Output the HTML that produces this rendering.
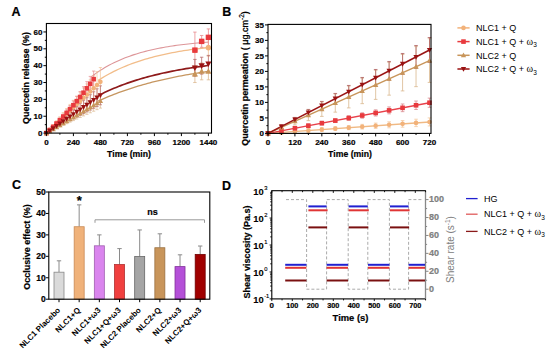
<!DOCTYPE html>
<html><head><meta charset="utf-8"><style>
html,body{margin:0;padding:0;background:#fff;width:550px;height:356px;overflow:hidden}
svg{display:block}
</style></head><body>
<svg width="550" height="356" viewBox="0 0 550 356">
<rect width="550" height="356" fill="#fff"/>
<text x="11.6" y="16.2" font-size="12.5" font-weight="bold" text-anchor="start" fill="#000" stroke="#000" stroke-width="0.2" font-family='"Liberation Sans", sans-serif' >A</text>
<text x="222.2" y="16.2" font-size="12.5" font-weight="bold" text-anchor="start" fill="#000" stroke="#000" stroke-width="0.2" font-family='"Liberation Sans", sans-serif' >B</text>
<text x="12.0" y="189.4" font-size="12.5" font-weight="bold" text-anchor="start" fill="#000" stroke="#000" stroke-width="0.2" font-family='"Liberation Sans", sans-serif' >C</text>
<text x="222.0" y="189.6" font-size="12.5" font-weight="bold" text-anchor="start" fill="#000" stroke="#000" stroke-width="0.2" font-family='"Liberation Sans", sans-serif' >D</text>
<polyline points="98.15,80.38 100.40,78.96 102.65,77.58 104.90,76.26 107.15,74.98 109.40,73.75 111.65,72.56 113.90,71.42 116.15,70.32 118.40,69.26 120.65,68.24 122.90,67.25 125.15,66.30 127.40,65.38 129.65,64.50 131.90,63.65 134.15,62.83 136.40,62.04 138.65,61.28 140.90,60.55 143.15,59.84 145.40,59.16 147.65,58.51 149.90,57.88 152.15,57.27 154.40,56.68 156.65,56.11 158.90,55.57 161.15,55.04 163.40,54.54 165.65,54.05 167.90,53.58 170.15,53.12 172.40,52.69 174.65,52.27 176.90,51.86 179.15,51.47 181.40,51.09 183.65,50.73 185.90,50.38 188.15,50.04 190.40,49.72 192.65,49.41 194.90,49.10 197.15,48.81 199.40,48.53 201.65,48.26 203.90,48.00 206.15,47.75 208.40,47.51 208.40,47.51" fill="none" stroke="#f2bd8a" stroke-width="1.3"/>
<polyline points="91.40,76.67 93.65,74.98 95.90,73.36 98.15,71.82 100.40,70.34 102.65,68.93 104.90,67.58 107.15,66.29 109.40,65.06 111.65,63.88 113.90,62.76 116.15,61.68 118.40,60.65 120.65,59.67 122.90,58.73 125.15,57.84 127.40,56.98 129.65,56.16 131.90,55.38 134.15,54.63 136.40,53.92 138.65,53.23 140.90,52.58 143.15,51.96 145.40,51.36 147.65,50.79 149.90,50.25 152.15,49.73 154.40,49.23 156.65,48.76 158.90,48.30 161.15,47.87 163.40,47.45 165.65,47.06 167.90,46.68 170.15,46.32 172.40,45.97 174.65,45.64 176.90,45.33 179.15,45.02 181.40,44.74 183.65,44.46 185.90,44.20 188.15,43.95 190.40,43.71 192.65,43.48 194.90,43.26 197.15,43.05 199.40,42.85 201.65,42.66 203.90,42.47 206.15,42.30 208.40,42.13 208.40,42.13" fill="none" stroke="#dd9598" stroke-width="1.1"/>
<polyline points="98.15,101.08 100.40,100.06 102.65,99.06 104.90,98.08 107.15,97.13 109.40,96.20 111.65,95.29 113.90,94.41 116.15,93.54 118.40,92.70 120.65,91.87 122.90,91.07 125.15,90.29 127.40,89.52 129.65,88.78 131.90,88.05 134.15,87.34 136.40,86.64 138.65,85.97 140.90,85.31 143.15,84.66 145.40,84.03 147.65,83.42 149.90,82.82 152.15,82.23 154.40,81.66 156.65,81.10 158.90,80.56 161.15,80.03 163.40,79.51 165.65,79.01 167.90,78.51 170.15,78.03 172.40,77.56 174.65,77.11 176.90,76.66 179.15,76.22 181.40,75.80 183.65,75.38 185.90,74.97 188.15,74.58 190.40,74.19 192.65,73.82 194.90,73.45 197.15,73.09 199.40,72.74 201.65,72.40 203.90,72.06 206.15,71.74 208.40,71.42 208.40,71.42" fill="none" stroke="#c69660" stroke-width="1.3"/>
<polyline points="98.15,95.62 100.40,94.49 102.65,93.39 104.90,92.32 107.15,91.28 109.40,90.27 111.65,89.29 113.90,88.34 116.15,87.42 118.40,86.52 120.65,85.64 122.90,84.79 125.15,83.97 127.40,83.17 129.65,82.39 131.90,81.63 134.15,80.90 136.40,80.18 138.65,79.49 140.90,78.81 143.15,78.16 145.40,77.52 147.65,76.90 149.90,76.30 152.15,75.72 154.40,75.15 156.65,74.60 158.90,74.06 161.15,73.54 163.40,73.04 165.65,72.55 167.90,72.07 170.15,71.60 172.40,71.15 174.65,70.72 176.90,70.29 179.15,69.88 181.40,69.48 183.65,69.09 185.90,68.71 188.15,68.34 190.40,67.98 192.65,67.63 194.90,67.30 197.15,66.97 199.40,66.65 201.65,66.34 203.90,66.04 206.15,65.74 208.40,65.46 208.40,65.46" fill="none" stroke="#8e1a1a" stroke-width="1.7"/>
<line x1="49.77" y1="129.00" x2="49.77" y2="130.79" stroke="#f0c49a" stroke-width="0.7" />
<line x1="48.17" y1="129.00" x2="51.38" y2="129.00" stroke="#f0c49a" stroke-width="0.7" />
<line x1="48.17" y1="130.79" x2="51.38" y2="130.79" stroke="#f0c49a" stroke-width="0.7" />
<line x1="53.15" y1="124.90" x2="53.15" y2="128.49" stroke="#f0c49a" stroke-width="0.7" />
<line x1="51.55" y1="124.90" x2="54.75" y2="124.90" stroke="#f0c49a" stroke-width="0.7" />
<line x1="51.55" y1="128.49" x2="54.75" y2="128.49" stroke="#f0c49a" stroke-width="0.7" />
<line x1="56.52" y1="120.81" x2="56.52" y2="126.18" stroke="#f0c49a" stroke-width="0.7" />
<line x1="54.92" y1="120.81" x2="58.12" y2="120.81" stroke="#f0c49a" stroke-width="0.7" />
<line x1="54.92" y1="126.18" x2="58.12" y2="126.18" stroke="#f0c49a" stroke-width="0.7" />
<line x1="59.90" y1="116.71" x2="59.90" y2="123.88" stroke="#f0c49a" stroke-width="0.7" />
<line x1="58.30" y1="116.71" x2="61.50" y2="116.71" stroke="#f0c49a" stroke-width="0.7" />
<line x1="58.30" y1="123.88" x2="61.50" y2="123.88" stroke="#f0c49a" stroke-width="0.7" />
<line x1="63.27" y1="112.61" x2="63.27" y2="121.57" stroke="#f0c49a" stroke-width="0.7" />
<line x1="61.67" y1="112.61" x2="64.88" y2="112.61" stroke="#f0c49a" stroke-width="0.7" />
<line x1="61.67" y1="121.57" x2="64.88" y2="121.57" stroke="#f0c49a" stroke-width="0.7" />
<line x1="66.65" y1="108.51" x2="66.65" y2="119.27" stroke="#f0c49a" stroke-width="0.7" />
<line x1="65.05" y1="108.51" x2="68.25" y2="108.51" stroke="#f0c49a" stroke-width="0.7" />
<line x1="65.05" y1="119.27" x2="68.25" y2="119.27" stroke="#f0c49a" stroke-width="0.7" />
<line x1="70.03" y1="104.41" x2="70.03" y2="116.96" stroke="#f0c49a" stroke-width="0.7" />
<line x1="68.43" y1="104.41" x2="71.62" y2="104.41" stroke="#f0c49a" stroke-width="0.7" />
<line x1="68.43" y1="116.96" x2="71.62" y2="116.96" stroke="#f0c49a" stroke-width="0.7" />
<line x1="73.40" y1="100.31" x2="73.40" y2="114.66" stroke="#f0c49a" stroke-width="0.7" />
<line x1="71.80" y1="100.31" x2="75.00" y2="100.31" stroke="#f0c49a" stroke-width="0.7" />
<line x1="71.80" y1="114.66" x2="75.00" y2="114.66" stroke="#f0c49a" stroke-width="0.7" />
<line x1="76.78" y1="96.22" x2="76.78" y2="112.35" stroke="#f0c49a" stroke-width="0.7" />
<line x1="75.18" y1="96.22" x2="78.38" y2="96.22" stroke="#f0c49a" stroke-width="0.7" />
<line x1="75.18" y1="112.35" x2="78.38" y2="112.35" stroke="#f0c49a" stroke-width="0.7" />
<line x1="80.15" y1="92.12" x2="80.15" y2="110.05" stroke="#f0c49a" stroke-width="0.7" />
<line x1="78.55" y1="92.12" x2="81.75" y2="92.12" stroke="#f0c49a" stroke-width="0.7" />
<line x1="78.55" y1="110.05" x2="81.75" y2="110.05" stroke="#f0c49a" stroke-width="0.7" />
<line x1="83.53" y1="88.02" x2="83.53" y2="107.74" stroke="#f0c49a" stroke-width="0.7" />
<line x1="81.93" y1="88.02" x2="85.12" y2="88.02" stroke="#f0c49a" stroke-width="0.7" />
<line x1="81.93" y1="107.74" x2="85.12" y2="107.74" stroke="#f0c49a" stroke-width="0.7" />
<line x1="86.90" y1="83.92" x2="86.90" y2="105.44" stroke="#f0c49a" stroke-width="0.7" />
<line x1="85.30" y1="83.92" x2="88.50" y2="83.92" stroke="#f0c49a" stroke-width="0.7" />
<line x1="85.30" y1="105.44" x2="88.50" y2="105.44" stroke="#f0c49a" stroke-width="0.7" />
<line x1="90.28" y1="79.82" x2="90.28" y2="103.13" stroke="#f0c49a" stroke-width="0.7" />
<line x1="88.68" y1="79.82" x2="91.88" y2="79.82" stroke="#f0c49a" stroke-width="0.7" />
<line x1="88.68" y1="103.13" x2="91.88" y2="103.13" stroke="#f0c49a" stroke-width="0.7" />
<line x1="93.65" y1="75.73" x2="93.65" y2="100.83" stroke="#f0c49a" stroke-width="0.7" />
<line x1="92.05" y1="75.73" x2="95.25" y2="75.73" stroke="#f0c49a" stroke-width="0.7" />
<line x1="92.05" y1="100.83" x2="95.25" y2="100.83" stroke="#f0c49a" stroke-width="0.7" />
<line x1="97.03" y1="71.63" x2="97.03" y2="98.52" stroke="#f0c49a" stroke-width="0.7" />
<line x1="95.43" y1="71.63" x2="98.62" y2="71.63" stroke="#f0c49a" stroke-width="0.7" />
<line x1="95.43" y1="98.52" x2="98.62" y2="98.52" stroke="#f0c49a" stroke-width="0.7" />
<line x1="100.40" y1="67.53" x2="100.40" y2="96.22" stroke="#f0c49a" stroke-width="0.7" />
<line x1="98.80" y1="67.53" x2="102.00" y2="67.53" stroke="#f0c49a" stroke-width="0.7" />
<line x1="98.80" y1="96.22" x2="102.00" y2="96.22" stroke="#f0c49a" stroke-width="0.7" />
<line x1="194.90" y1="50.15" x2="194.90" y2="50.15" stroke="#f0c49a" stroke-width="0.8" />
<line x1="193.20" y1="50.15" x2="196.60" y2="50.15" stroke="#f0c49a" stroke-width="0.8" />
<line x1="193.20" y1="50.15" x2="196.60" y2="50.15" stroke="#f0c49a" stroke-width="0.8" />
<line x1="201.65" y1="41.38" x2="201.65" y2="41.38" stroke="#f0c49a" stroke-width="0.8" />
<line x1="199.95" y1="41.38" x2="203.35" y2="41.38" stroke="#f0c49a" stroke-width="0.8" />
<line x1="199.95" y1="41.38" x2="203.35" y2="41.38" stroke="#f0c49a" stroke-width="0.8" />
<line x1="208.40" y1="39.36" x2="208.40" y2="56.22" stroke="#f0c49a" stroke-width="0.8" />
<line x1="206.70" y1="39.36" x2="210.10" y2="39.36" stroke="#f0c49a" stroke-width="0.8" />
<line x1="206.70" y1="56.22" x2="210.10" y2="56.22" stroke="#f0c49a" stroke-width="0.8" />
<line x1="49.77" y1="129.58" x2="49.77" y2="130.50" stroke="#e88a8e" stroke-width="0.7" />
<line x1="48.17" y1="129.58" x2="51.38" y2="129.58" stroke="#e88a8e" stroke-width="0.7" />
<line x1="48.17" y1="130.50" x2="51.38" y2="130.50" stroke="#e88a8e" stroke-width="0.7" />
<line x1="53.15" y1="125.92" x2="53.15" y2="127.79" stroke="#e88a8e" stroke-width="0.7" />
<line x1="51.55" y1="125.92" x2="54.75" y2="125.92" stroke="#e88a8e" stroke-width="0.7" />
<line x1="51.55" y1="127.79" x2="54.75" y2="127.79" stroke="#e88a8e" stroke-width="0.7" />
<line x1="56.52" y1="122.12" x2="56.52" y2="124.98" stroke="#e88a8e" stroke-width="0.7" />
<line x1="54.92" y1="122.12" x2="58.12" y2="122.12" stroke="#e88a8e" stroke-width="0.7" />
<line x1="54.92" y1="124.98" x2="58.12" y2="124.98" stroke="#e88a8e" stroke-width="0.7" />
<line x1="59.90" y1="118.18" x2="59.90" y2="122.07" stroke="#e88a8e" stroke-width="0.7" />
<line x1="58.30" y1="118.18" x2="61.50" y2="118.18" stroke="#e88a8e" stroke-width="0.7" />
<line x1="58.30" y1="122.07" x2="61.50" y2="122.07" stroke="#e88a8e" stroke-width="0.7" />
<line x1="63.27" y1="114.10" x2="63.27" y2="119.05" stroke="#e88a8e" stroke-width="0.7" />
<line x1="61.67" y1="114.10" x2="64.88" y2="114.10" stroke="#e88a8e" stroke-width="0.7" />
<line x1="61.67" y1="119.05" x2="64.88" y2="119.05" stroke="#e88a8e" stroke-width="0.7" />
<line x1="66.65" y1="109.87" x2="66.65" y2="115.93" stroke="#e88a8e" stroke-width="0.7" />
<line x1="65.05" y1="109.87" x2="68.25" y2="109.87" stroke="#e88a8e" stroke-width="0.7" />
<line x1="65.05" y1="115.93" x2="68.25" y2="115.93" stroke="#e88a8e" stroke-width="0.7" />
<line x1="70.03" y1="105.51" x2="70.03" y2="112.71" stroke="#e88a8e" stroke-width="0.7" />
<line x1="68.43" y1="105.51" x2="71.62" y2="105.51" stroke="#e88a8e" stroke-width="0.7" />
<line x1="68.43" y1="112.71" x2="71.62" y2="112.71" stroke="#e88a8e" stroke-width="0.7" />
<line x1="73.40" y1="101.01" x2="73.40" y2="109.38" stroke="#e88a8e" stroke-width="0.7" />
<line x1="71.80" y1="101.01" x2="75.00" y2="101.01" stroke="#e88a8e" stroke-width="0.7" />
<line x1="71.80" y1="109.38" x2="75.00" y2="109.38" stroke="#e88a8e" stroke-width="0.7" />
<line x1="76.78" y1="96.37" x2="76.78" y2="105.95" stroke="#e88a8e" stroke-width="0.7" />
<line x1="75.18" y1="96.37" x2="78.38" y2="96.37" stroke="#e88a8e" stroke-width="0.7" />
<line x1="75.18" y1="105.95" x2="78.38" y2="105.95" stroke="#e88a8e" stroke-width="0.7" />
<line x1="80.15" y1="91.59" x2="80.15" y2="102.42" stroke="#e88a8e" stroke-width="0.7" />
<line x1="78.55" y1="91.59" x2="81.75" y2="91.59" stroke="#e88a8e" stroke-width="0.7" />
<line x1="78.55" y1="102.42" x2="81.75" y2="102.42" stroke="#e88a8e" stroke-width="0.7" />
<line x1="83.53" y1="86.67" x2="83.53" y2="98.78" stroke="#e88a8e" stroke-width="0.7" />
<line x1="81.93" y1="86.67" x2="85.12" y2="86.67" stroke="#e88a8e" stroke-width="0.7" />
<line x1="81.93" y1="98.78" x2="85.12" y2="98.78" stroke="#e88a8e" stroke-width="0.7" />
<line x1="86.90" y1="81.61" x2="86.90" y2="95.04" stroke="#e88a8e" stroke-width="0.7" />
<line x1="85.30" y1="81.61" x2="88.50" y2="81.61" stroke="#e88a8e" stroke-width="0.7" />
<line x1="85.30" y1="95.04" x2="88.50" y2="95.04" stroke="#e88a8e" stroke-width="0.7" />
<line x1="90.28" y1="76.40" x2="90.28" y2="91.19" stroke="#e88a8e" stroke-width="0.7" />
<line x1="88.68" y1="76.40" x2="91.88" y2="76.40" stroke="#e88a8e" stroke-width="0.7" />
<line x1="88.68" y1="91.19" x2="91.88" y2="91.19" stroke="#e88a8e" stroke-width="0.7" />
<line x1="93.65" y1="71.06" x2="93.65" y2="87.25" stroke="#e88a8e" stroke-width="0.7" />
<line x1="92.05" y1="71.06" x2="95.25" y2="71.06" stroke="#e88a8e" stroke-width="0.7" />
<line x1="92.05" y1="87.25" x2="95.25" y2="87.25" stroke="#e88a8e" stroke-width="0.7" />
<line x1="194.90" y1="32.11" x2="194.90" y2="68.19" stroke="#e88a8e" stroke-width="0.8" />
<line x1="193.20" y1="32.11" x2="196.60" y2="32.11" stroke="#e88a8e" stroke-width="0.8" />
<line x1="193.20" y1="68.19" x2="196.60" y2="68.19" stroke="#e88a8e" stroke-width="0.8" />
<line x1="201.65" y1="35.48" x2="201.65" y2="47.28" stroke="#e88a8e" stroke-width="0.8" />
<line x1="199.95" y1="35.48" x2="203.35" y2="35.48" stroke="#e88a8e" stroke-width="0.8" />
<line x1="199.95" y1="47.28" x2="203.35" y2="47.28" stroke="#e88a8e" stroke-width="0.8" />
<line x1="208.40" y1="28.91" x2="208.40" y2="45.77" stroke="#e88a8e" stroke-width="0.8" />
<line x1="206.70" y1="28.91" x2="210.10" y2="28.91" stroke="#e88a8e" stroke-width="0.8" />
<line x1="206.70" y1="45.77" x2="210.10" y2="45.77" stroke="#e88a8e" stroke-width="0.8" />
<line x1="49.77" y1="130.66" x2="49.77" y2="131.54" stroke="#dcb990" stroke-width="0.7" />
<line x1="48.17" y1="130.66" x2="51.38" y2="130.66" stroke="#dcb990" stroke-width="0.7" />
<line x1="48.17" y1="131.54" x2="51.38" y2="131.54" stroke="#dcb990" stroke-width="0.7" />
<line x1="53.15" y1="128.21" x2="53.15" y2="129.98" stroke="#dcb990" stroke-width="0.7" />
<line x1="51.55" y1="128.21" x2="54.75" y2="128.21" stroke="#dcb990" stroke-width="0.7" />
<line x1="51.55" y1="129.98" x2="54.75" y2="129.98" stroke="#dcb990" stroke-width="0.7" />
<line x1="56.52" y1="125.77" x2="56.52" y2="128.41" stroke="#dcb990" stroke-width="0.7" />
<line x1="54.92" y1="125.77" x2="58.12" y2="125.77" stroke="#dcb990" stroke-width="0.7" />
<line x1="54.92" y1="128.41" x2="58.12" y2="128.41" stroke="#dcb990" stroke-width="0.7" />
<line x1="59.90" y1="123.33" x2="59.90" y2="126.85" stroke="#dcb990" stroke-width="0.7" />
<line x1="58.30" y1="123.33" x2="61.50" y2="123.33" stroke="#dcb990" stroke-width="0.7" />
<line x1="58.30" y1="126.85" x2="61.50" y2="126.85" stroke="#dcb990" stroke-width="0.7" />
<line x1="63.27" y1="120.88" x2="63.27" y2="125.29" stroke="#dcb990" stroke-width="0.7" />
<line x1="61.67" y1="120.88" x2="64.88" y2="120.88" stroke="#dcb990" stroke-width="0.7" />
<line x1="61.67" y1="125.29" x2="64.88" y2="125.29" stroke="#dcb990" stroke-width="0.7" />
<line x1="66.65" y1="118.44" x2="66.65" y2="123.73" stroke="#dcb990" stroke-width="0.7" />
<line x1="65.05" y1="118.44" x2="68.25" y2="118.44" stroke="#dcb990" stroke-width="0.7" />
<line x1="65.05" y1="123.73" x2="68.25" y2="123.73" stroke="#dcb990" stroke-width="0.7" />
<line x1="70.03" y1="115.99" x2="70.03" y2="122.16" stroke="#dcb990" stroke-width="0.7" />
<line x1="68.43" y1="115.99" x2="71.62" y2="115.99" stroke="#dcb990" stroke-width="0.7" />
<line x1="68.43" y1="122.16" x2="71.62" y2="122.16" stroke="#dcb990" stroke-width="0.7" />
<line x1="73.40" y1="113.55" x2="73.40" y2="120.60" stroke="#dcb990" stroke-width="0.7" />
<line x1="71.80" y1="113.55" x2="75.00" y2="113.55" stroke="#dcb990" stroke-width="0.7" />
<line x1="71.80" y1="120.60" x2="75.00" y2="120.60" stroke="#dcb990" stroke-width="0.7" />
<line x1="76.78" y1="111.11" x2="76.78" y2="119.04" stroke="#dcb990" stroke-width="0.7" />
<line x1="75.18" y1="111.11" x2="78.38" y2="111.11" stroke="#dcb990" stroke-width="0.7" />
<line x1="75.18" y1="119.04" x2="78.38" y2="119.04" stroke="#dcb990" stroke-width="0.7" />
<line x1="80.15" y1="108.66" x2="80.15" y2="117.48" stroke="#dcb990" stroke-width="0.7" />
<line x1="78.55" y1="108.66" x2="81.75" y2="108.66" stroke="#dcb990" stroke-width="0.7" />
<line x1="78.55" y1="117.48" x2="81.75" y2="117.48" stroke="#dcb990" stroke-width="0.7" />
<line x1="83.53" y1="106.22" x2="83.53" y2="115.91" stroke="#dcb990" stroke-width="0.7" />
<line x1="81.93" y1="106.22" x2="85.12" y2="106.22" stroke="#dcb990" stroke-width="0.7" />
<line x1="81.93" y1="115.91" x2="85.12" y2="115.91" stroke="#dcb990" stroke-width="0.7" />
<line x1="86.90" y1="103.78" x2="86.90" y2="114.35" stroke="#dcb990" stroke-width="0.7" />
<line x1="85.30" y1="103.78" x2="88.50" y2="103.78" stroke="#dcb990" stroke-width="0.7" />
<line x1="85.30" y1="114.35" x2="88.50" y2="114.35" stroke="#dcb990" stroke-width="0.7" />
<line x1="90.28" y1="101.33" x2="90.28" y2="112.79" stroke="#dcb990" stroke-width="0.7" />
<line x1="88.68" y1="101.33" x2="91.88" y2="101.33" stroke="#dcb990" stroke-width="0.7" />
<line x1="88.68" y1="112.79" x2="91.88" y2="112.79" stroke="#dcb990" stroke-width="0.7" />
<line x1="93.65" y1="98.89" x2="93.65" y2="111.23" stroke="#dcb990" stroke-width="0.7" />
<line x1="92.05" y1="98.89" x2="95.25" y2="98.89" stroke="#dcb990" stroke-width="0.7" />
<line x1="92.05" y1="111.23" x2="95.25" y2="111.23" stroke="#dcb990" stroke-width="0.7" />
<line x1="97.03" y1="96.45" x2="97.03" y2="109.67" stroke="#dcb990" stroke-width="0.7" />
<line x1="95.43" y1="96.45" x2="98.62" y2="96.45" stroke="#dcb990" stroke-width="0.7" />
<line x1="95.43" y1="109.67" x2="98.62" y2="109.67" stroke="#dcb990" stroke-width="0.7" />
<line x1="100.40" y1="94.00" x2="100.40" y2="108.10" stroke="#dcb990" stroke-width="0.7" />
<line x1="98.80" y1="94.00" x2="102.00" y2="94.00" stroke="#dcb990" stroke-width="0.7" />
<line x1="98.80" y1="108.10" x2="102.00" y2="108.10" stroke="#dcb990" stroke-width="0.7" />
<line x1="194.90" y1="65.66" x2="194.90" y2="82.52" stroke="#dcb990" stroke-width="0.8" />
<line x1="193.20" y1="65.66" x2="196.60" y2="65.66" stroke="#dcb990" stroke-width="0.8" />
<line x1="193.20" y1="82.52" x2="196.60" y2="82.52" stroke="#dcb990" stroke-width="0.8" />
<line x1="201.65" y1="62.96" x2="201.65" y2="79.82" stroke="#dcb990" stroke-width="0.8" />
<line x1="199.95" y1="62.96" x2="203.35" y2="62.96" stroke="#dcb990" stroke-width="0.8" />
<line x1="199.95" y1="79.82" x2="203.35" y2="79.82" stroke="#dcb990" stroke-width="0.8" />
<line x1="208.40" y1="62.96" x2="208.40" y2="79.82" stroke="#dcb990" stroke-width="0.8" />
<line x1="206.70" y1="62.96" x2="210.10" y2="62.96" stroke="#dcb990" stroke-width="0.8" />
<line x1="206.70" y1="79.82" x2="210.10" y2="79.82" stroke="#dcb990" stroke-width="0.8" />
<line x1="49.77" y1="130.15" x2="49.77" y2="131.33" stroke="#b86a6a" stroke-width="0.7" />
<line x1="48.17" y1="130.15" x2="51.38" y2="130.15" stroke="#b86a6a" stroke-width="0.7" />
<line x1="48.17" y1="131.33" x2="51.38" y2="131.33" stroke="#b86a6a" stroke-width="0.7" />
<line x1="53.15" y1="127.19" x2="53.15" y2="129.56" stroke="#b86a6a" stroke-width="0.7" />
<line x1="51.55" y1="127.19" x2="54.75" y2="127.19" stroke="#b86a6a" stroke-width="0.7" />
<line x1="51.55" y1="129.56" x2="54.75" y2="129.56" stroke="#b86a6a" stroke-width="0.7" />
<line x1="56.52" y1="124.24" x2="56.52" y2="127.79" stroke="#b86a6a" stroke-width="0.7" />
<line x1="54.92" y1="124.24" x2="58.12" y2="124.24" stroke="#b86a6a" stroke-width="0.7" />
<line x1="54.92" y1="127.79" x2="58.12" y2="127.79" stroke="#b86a6a" stroke-width="0.7" />
<line x1="59.90" y1="121.29" x2="59.90" y2="126.01" stroke="#b86a6a" stroke-width="0.7" />
<line x1="58.30" y1="121.29" x2="61.50" y2="121.29" stroke="#b86a6a" stroke-width="0.7" />
<line x1="58.30" y1="126.01" x2="61.50" y2="126.01" stroke="#b86a6a" stroke-width="0.7" />
<line x1="63.27" y1="118.34" x2="63.27" y2="124.24" stroke="#b86a6a" stroke-width="0.7" />
<line x1="61.67" y1="118.34" x2="64.88" y2="118.34" stroke="#b86a6a" stroke-width="0.7" />
<line x1="61.67" y1="124.24" x2="64.88" y2="124.24" stroke="#b86a6a" stroke-width="0.7" />
<line x1="66.65" y1="115.38" x2="66.65" y2="122.47" stroke="#b86a6a" stroke-width="0.7" />
<line x1="65.05" y1="115.38" x2="68.25" y2="115.38" stroke="#b86a6a" stroke-width="0.7" />
<line x1="65.05" y1="122.47" x2="68.25" y2="122.47" stroke="#b86a6a" stroke-width="0.7" />
<line x1="70.03" y1="112.43" x2="70.03" y2="120.70" stroke="#b86a6a" stroke-width="0.7" />
<line x1="68.43" y1="112.43" x2="71.62" y2="112.43" stroke="#b86a6a" stroke-width="0.7" />
<line x1="68.43" y1="120.70" x2="71.62" y2="120.70" stroke="#b86a6a" stroke-width="0.7" />
<line x1="73.40" y1="109.48" x2="73.40" y2="118.93" stroke="#b86a6a" stroke-width="0.7" />
<line x1="71.80" y1="109.48" x2="75.00" y2="109.48" stroke="#b86a6a" stroke-width="0.7" />
<line x1="71.80" y1="118.93" x2="75.00" y2="118.93" stroke="#b86a6a" stroke-width="0.7" />
<line x1="76.78" y1="106.53" x2="76.78" y2="117.16" stroke="#b86a6a" stroke-width="0.7" />
<line x1="75.18" y1="106.53" x2="78.38" y2="106.53" stroke="#b86a6a" stroke-width="0.7" />
<line x1="75.18" y1="117.16" x2="78.38" y2="117.16" stroke="#b86a6a" stroke-width="0.7" />
<line x1="80.15" y1="103.57" x2="80.15" y2="115.38" stroke="#b86a6a" stroke-width="0.7" />
<line x1="78.55" y1="103.57" x2="81.75" y2="103.57" stroke="#b86a6a" stroke-width="0.7" />
<line x1="78.55" y1="115.38" x2="81.75" y2="115.38" stroke="#b86a6a" stroke-width="0.7" />
<line x1="83.53" y1="100.62" x2="83.53" y2="113.61" stroke="#b86a6a" stroke-width="0.7" />
<line x1="81.93" y1="100.62" x2="85.12" y2="100.62" stroke="#b86a6a" stroke-width="0.7" />
<line x1="81.93" y1="113.61" x2="85.12" y2="113.61" stroke="#b86a6a" stroke-width="0.7" />
<line x1="86.90" y1="97.67" x2="86.90" y2="111.84" stroke="#b86a6a" stroke-width="0.7" />
<line x1="85.30" y1="97.67" x2="88.50" y2="97.67" stroke="#b86a6a" stroke-width="0.7" />
<line x1="85.30" y1="111.84" x2="88.50" y2="111.84" stroke="#b86a6a" stroke-width="0.7" />
<line x1="90.28" y1="94.72" x2="90.28" y2="110.07" stroke="#b86a6a" stroke-width="0.7" />
<line x1="88.68" y1="94.72" x2="91.88" y2="94.72" stroke="#b86a6a" stroke-width="0.7" />
<line x1="88.68" y1="110.07" x2="91.88" y2="110.07" stroke="#b86a6a" stroke-width="0.7" />
<line x1="93.65" y1="91.76" x2="93.65" y2="108.30" stroke="#b86a6a" stroke-width="0.7" />
<line x1="92.05" y1="91.76" x2="95.25" y2="91.76" stroke="#b86a6a" stroke-width="0.7" />
<line x1="92.05" y1="108.30" x2="95.25" y2="108.30" stroke="#b86a6a" stroke-width="0.7" />
<line x1="97.03" y1="88.81" x2="97.03" y2="106.53" stroke="#b86a6a" stroke-width="0.7" />
<line x1="95.43" y1="88.81" x2="98.62" y2="88.81" stroke="#b86a6a" stroke-width="0.7" />
<line x1="95.43" y1="106.53" x2="98.62" y2="106.53" stroke="#b86a6a" stroke-width="0.7" />
<line x1="100.40" y1="85.86" x2="100.40" y2="104.75" stroke="#b86a6a" stroke-width="0.7" />
<line x1="98.80" y1="85.86" x2="102.00" y2="85.86" stroke="#b86a6a" stroke-width="0.7" />
<line x1="98.80" y1="104.75" x2="102.00" y2="104.75" stroke="#b86a6a" stroke-width="0.7" />
<line x1="194.90" y1="59.42" x2="194.90" y2="76.28" stroke="#b86a6a" stroke-width="0.8" />
<line x1="193.20" y1="59.42" x2="196.60" y2="59.42" stroke="#b86a6a" stroke-width="0.8" />
<line x1="193.20" y1="76.28" x2="196.60" y2="76.28" stroke="#b86a6a" stroke-width="0.8" />
<line x1="201.65" y1="57.23" x2="201.65" y2="74.09" stroke="#b86a6a" stroke-width="0.8" />
<line x1="199.95" y1="57.23" x2="203.35" y2="57.23" stroke="#b86a6a" stroke-width="0.8" />
<line x1="199.95" y1="74.09" x2="203.35" y2="74.09" stroke="#b86a6a" stroke-width="0.8" />
<line x1="208.40" y1="55.38" x2="208.40" y2="72.24" stroke="#b86a6a" stroke-width="0.8" />
<line x1="206.70" y1="55.38" x2="210.10" y2="55.38" stroke="#b86a6a" stroke-width="0.8" />
<line x1="206.70" y1="72.24" x2="210.10" y2="72.24" stroke="#b86a6a" stroke-width="0.8" />
<circle cx="46.40" cy="133.10" r="2.30" fill="#f2b27a"/>
<circle cx="49.77" cy="129.90" r="2.30" fill="#f2b27a"/>
<circle cx="53.15" cy="126.70" r="2.30" fill="#f2b27a"/>
<circle cx="56.52" cy="123.49" r="2.30" fill="#f2b27a"/>
<circle cx="59.90" cy="120.29" r="2.30" fill="#f2b27a"/>
<circle cx="63.27" cy="117.09" r="2.30" fill="#f2b27a"/>
<circle cx="66.65" cy="113.89" r="2.30" fill="#f2b27a"/>
<circle cx="70.03" cy="110.69" r="2.30" fill="#f2b27a"/>
<circle cx="73.40" cy="107.49" r="2.30" fill="#f2b27a"/>
<circle cx="76.78" cy="104.28" r="2.30" fill="#f2b27a"/>
<circle cx="80.15" cy="101.08" r="2.30" fill="#f2b27a"/>
<circle cx="83.53" cy="97.88" r="2.30" fill="#f2b27a"/>
<circle cx="86.90" cy="94.68" r="2.30" fill="#f2b27a"/>
<circle cx="90.28" cy="91.48" r="2.30" fill="#f2b27a"/>
<circle cx="93.65" cy="88.28" r="2.30" fill="#f2b27a"/>
<circle cx="97.03" cy="85.07" r="2.30" fill="#f2b27a"/>
<circle cx="100.40" cy="81.87" r="2.30" fill="#f2b27a"/>
<circle cx="194.90" cy="50.15" r="2.70" fill="#f2b27a"/>
<circle cx="201.65" cy="41.38" r="2.70" fill="#f2b27a"/>
<circle cx="208.40" cy="47.79" r="2.70" fill="#f2b27a"/>
<rect x="44.10" y="130.80" width="4.60" height="4.60" fill="#e83a3e"/>
<rect x="47.48" y="127.74" width="4.60" height="4.60" fill="#e83a3e"/>
<rect x="50.85" y="124.56" width="4.60" height="4.60" fill="#e83a3e"/>
<rect x="54.23" y="121.25" width="4.60" height="4.60" fill="#e83a3e"/>
<rect x="57.60" y="117.82" width="4.60" height="4.60" fill="#e83a3e"/>
<rect x="60.98" y="114.27" width="4.60" height="4.60" fill="#e83a3e"/>
<rect x="64.35" y="110.60" width="4.60" height="4.60" fill="#e83a3e"/>
<rect x="67.73" y="106.81" width="4.60" height="4.60" fill="#e83a3e"/>
<rect x="71.10" y="102.90" width="4.60" height="4.60" fill="#e83a3e"/>
<rect x="74.48" y="98.86" width="4.60" height="4.60" fill="#e83a3e"/>
<rect x="77.85" y="94.70" width="4.60" height="4.60" fill="#e83a3e"/>
<rect x="81.23" y="90.42" width="4.60" height="4.60" fill="#e83a3e"/>
<rect x="84.60" y="86.02" width="4.60" height="4.60" fill="#e83a3e"/>
<rect x="87.98" y="81.50" width="4.60" height="4.60" fill="#e83a3e"/>
<rect x="91.35" y="76.85" width="4.60" height="4.60" fill="#e83a3e"/>
<rect x="192.20" y="47.45" width="5.40" height="5.40" fill="#e83a3e"/>
<rect x="198.95" y="38.68" width="5.40" height="5.40" fill="#e83a3e"/>
<rect x="205.70" y="34.64" width="5.40" height="5.40" fill="#e83a3e"/>
<polygon points="43.75,135.17 49.05,135.17 46.40,130.34" fill="#c8955a"/>
<polygon points="47.13,133.17 52.42,133.17 49.77,128.34" fill="#c8955a"/>
<polygon points="50.50,131.16 55.80,131.16 53.15,126.33" fill="#c8955a"/>
<polygon points="53.88,129.16 59.17,129.16 56.52,124.33" fill="#c8955a"/>
<polygon points="57.25,127.16 62.55,127.16 59.90,122.33" fill="#c8955a"/>
<polygon points="60.63,125.16 65.92,125.16 63.27,120.33" fill="#c8955a"/>
<polygon points="64.01,123.15 69.30,123.15 66.65,118.32" fill="#c8955a"/>
<polygon points="67.38,121.15 72.67,121.15 70.03,116.32" fill="#c8955a"/>
<polygon points="70.76,119.15 76.05,119.15 73.40,114.32" fill="#c8955a"/>
<polygon points="74.13,117.14 79.42,117.14 76.78,112.31" fill="#c8955a"/>
<polygon points="77.51,115.14 82.80,115.14 80.15,110.31" fill="#c8955a"/>
<polygon points="80.88,113.14 86.17,113.14 83.53,108.31" fill="#c8955a"/>
<polygon points="84.26,111.13 89.55,111.13 86.90,106.30" fill="#c8955a"/>
<polygon points="87.63,109.13 92.92,109.13 90.28,104.30" fill="#c8955a"/>
<polygon points="91.01,107.13 96.30,107.13 93.65,102.30" fill="#c8955a"/>
<polygon points="94.38,105.13 99.67,105.13 97.03,100.30" fill="#c8955a"/>
<polygon points="97.76,103.12 103.05,103.12 100.40,98.29" fill="#c8955a"/>
<polygon points="191.80,76.52 198.00,76.52 194.90,70.85" fill="#c8955a"/>
<polygon points="198.55,73.82 204.75,73.82 201.65,68.15" fill="#c8955a"/>
<polygon points="205.30,73.82 211.50,73.82 208.40,68.15" fill="#c8955a"/>
<polygon points="43.75,131.03 49.05,131.03 46.40,135.86" fill="#9a1212"/>
<polygon points="47.13,128.67 52.42,128.67 49.77,133.50" fill="#9a1212"/>
<polygon points="50.50,126.31 55.80,126.31 53.15,131.14" fill="#9a1212"/>
<polygon points="53.88,123.94 59.17,123.94 56.52,128.77" fill="#9a1212"/>
<polygon points="57.25,121.58 62.55,121.58 59.90,126.41" fill="#9a1212"/>
<polygon points="60.63,119.22 65.92,119.22 63.27,124.05" fill="#9a1212"/>
<polygon points="64.01,116.86 69.30,116.86 66.65,121.69" fill="#9a1212"/>
<polygon points="67.38,114.50 72.67,114.50 70.03,119.33" fill="#9a1212"/>
<polygon points="70.76,112.13 76.05,112.13 73.40,116.96" fill="#9a1212"/>
<polygon points="74.13,109.77 79.42,109.77 76.78,114.60" fill="#9a1212"/>
<polygon points="77.51,107.41 82.80,107.41 80.15,112.24" fill="#9a1212"/>
<polygon points="80.88,105.05 86.17,105.05 83.53,109.88" fill="#9a1212"/>
<polygon points="84.26,102.68 89.55,102.68 86.90,107.51" fill="#9a1212"/>
<polygon points="87.63,100.32 92.92,100.32 90.28,105.15" fill="#9a1212"/>
<polygon points="91.01,97.96 96.30,97.96 93.65,102.79" fill="#9a1212"/>
<polygon points="94.38,95.60 99.67,95.60 97.03,100.43" fill="#9a1212"/>
<polygon points="97.76,93.24 103.05,93.24 100.40,98.07" fill="#9a1212"/>
<polygon points="191.80,65.42 198.00,65.42 194.90,71.09" fill="#9a1212"/>
<polygon points="198.55,63.23 204.75,63.23 201.65,68.90" fill="#9a1212"/>
<polygon points="205.30,61.38 211.50,61.38 208.40,67.05" fill="#9a1212"/>
<rect x="46.4" y="23.5" width="165.1" height="109.6" fill="none" stroke="#000" stroke-width="1.1"/>
<line x1="43.40" y1="133.10" x2="46.40" y2="133.10" stroke="#000" stroke-width="1" />
<text x="42.4" y="135.7" font-size="8" font-weight="bold" text-anchor="end" fill="#000" stroke="#000" stroke-width="0.2" font-family='"Liberation Sans", sans-serif' >0</text>
<line x1="44.80" y1="124.67" x2="46.40" y2="124.67" stroke="#000" stroke-width="1" />
<line x1="43.40" y1="116.24" x2="46.40" y2="116.24" stroke="#000" stroke-width="1" />
<text x="42.4" y="118.83999999999999" font-size="8" font-weight="bold" text-anchor="end" fill="#000" stroke="#000" stroke-width="0.2" font-family='"Liberation Sans", sans-serif' >10</text>
<line x1="44.80" y1="107.81" x2="46.40" y2="107.81" stroke="#000" stroke-width="1" />
<line x1="43.40" y1="99.38" x2="46.40" y2="99.38" stroke="#000" stroke-width="1" />
<text x="42.4" y="101.97999999999999" font-size="8" font-weight="bold" text-anchor="end" fill="#000" stroke="#000" stroke-width="0.2" font-family='"Liberation Sans", sans-serif' >20</text>
<line x1="44.80" y1="90.95" x2="46.40" y2="90.95" stroke="#000" stroke-width="1" />
<line x1="43.40" y1="82.52" x2="46.40" y2="82.52" stroke="#000" stroke-width="1" />
<text x="42.4" y="85.11999999999999" font-size="8" font-weight="bold" text-anchor="end" fill="#000" stroke="#000" stroke-width="0.2" font-family='"Liberation Sans", sans-serif' >30</text>
<line x1="44.80" y1="74.09" x2="46.40" y2="74.09" stroke="#000" stroke-width="1" />
<line x1="43.40" y1="65.66" x2="46.40" y2="65.66" stroke="#000" stroke-width="1" />
<text x="42.4" y="68.25999999999999" font-size="8" font-weight="bold" text-anchor="end" fill="#000" stroke="#000" stroke-width="0.2" font-family='"Liberation Sans", sans-serif' >40</text>
<line x1="44.80" y1="57.23" x2="46.40" y2="57.23" stroke="#000" stroke-width="1" />
<line x1="43.40" y1="48.80" x2="46.40" y2="48.80" stroke="#000" stroke-width="1" />
<text x="42.4" y="51.4" font-size="8" font-weight="bold" text-anchor="end" fill="#000" stroke="#000" stroke-width="0.2" font-family='"Liberation Sans", sans-serif' >50</text>
<line x1="44.80" y1="40.37" x2="46.40" y2="40.37" stroke="#000" stroke-width="1" />
<line x1="43.40" y1="31.94" x2="46.40" y2="31.94" stroke="#000" stroke-width="1" />
<text x="42.4" y="34.54" font-size="8" font-weight="bold" text-anchor="end" fill="#000" stroke="#000" stroke-width="0.2" font-family='"Liberation Sans", sans-serif' >60</text>
<line x1="46.40" y1="133.10" x2="46.40" y2="136.10" stroke="#000" stroke-width="1" />
<text x="46.4" y="144.7" font-size="8" font-weight="bold" text-anchor="middle" fill="#000" stroke="#000" stroke-width="0.2" font-family='"Liberation Sans", sans-serif' >0</text>
<line x1="59.90" y1="133.10" x2="59.90" y2="134.70" stroke="#000" stroke-width="1" />
<line x1="73.40" y1="133.10" x2="73.40" y2="136.10" stroke="#000" stroke-width="1" />
<text x="73.4" y="144.7" font-size="8" font-weight="bold" text-anchor="middle" fill="#000" stroke="#000" stroke-width="0.2" font-family='"Liberation Sans", sans-serif' >240</text>
<line x1="86.90" y1="133.10" x2="86.90" y2="134.70" stroke="#000" stroke-width="1" />
<line x1="100.40" y1="133.10" x2="100.40" y2="136.10" stroke="#000" stroke-width="1" />
<text x="100.4" y="144.7" font-size="8" font-weight="bold" text-anchor="middle" fill="#000" stroke="#000" stroke-width="0.2" font-family='"Liberation Sans", sans-serif' >480</text>
<line x1="113.90" y1="133.10" x2="113.90" y2="134.70" stroke="#000" stroke-width="1" />
<line x1="127.40" y1="133.10" x2="127.40" y2="136.10" stroke="#000" stroke-width="1" />
<text x="127.4" y="144.7" font-size="8" font-weight="bold" text-anchor="middle" fill="#000" stroke="#000" stroke-width="0.2" font-family='"Liberation Sans", sans-serif' >720</text>
<line x1="140.90" y1="133.10" x2="140.90" y2="134.70" stroke="#000" stroke-width="1" />
<line x1="154.40" y1="133.10" x2="154.40" y2="136.10" stroke="#000" stroke-width="1" />
<text x="154.4" y="144.7" font-size="8" font-weight="bold" text-anchor="middle" fill="#000" stroke="#000" stroke-width="0.2" font-family='"Liberation Sans", sans-serif' >960</text>
<line x1="167.90" y1="133.10" x2="167.90" y2="134.70" stroke="#000" stroke-width="1" />
<line x1="181.40" y1="133.10" x2="181.40" y2="136.10" stroke="#000" stroke-width="1" />
<text x="181.4" y="144.7" font-size="8" font-weight="bold" text-anchor="middle" fill="#000" stroke="#000" stroke-width="0.2" font-family='"Liberation Sans", sans-serif' >1200</text>
<line x1="194.90" y1="133.10" x2="194.90" y2="134.70" stroke="#000" stroke-width="1" />
<line x1="208.40" y1="133.10" x2="208.40" y2="136.10" stroke="#000" stroke-width="1" />
<text x="208.4" y="144.7" font-size="8" font-weight="bold" text-anchor="middle" fill="#000" stroke="#000" stroke-width="0.2" font-family='"Liberation Sans", sans-serif' >1440</text>
<text x="129" y="157.2" font-size="8.7" font-weight="bold" text-anchor="middle" fill="#000" stroke="#000" stroke-width="0.2" font-family='"Liberation Sans", sans-serif' >Time (min)</text>
<text x="28.5" y="78" font-size="9" font-weight="bold" text-anchor="middle" fill="#000" stroke="#000" stroke-width="0.2" font-family='"Liberation Sans", sans-serif' transform="rotate(-90 28.5 78)" >Quercetin release (%)</text>
<line x1="268.00" y1="133.40" x2="429.50" y2="121.93" stroke="#f0b983" stroke-width="1.4" />
<line x1="268.00" y1="133.40" x2="429.50" y2="102.71" stroke="#e8404a" stroke-width="1.4" />
<line x1="268.00" y1="133.40" x2="429.50" y2="60.55" stroke="#c8955a" stroke-width="1.4" />
<line x1="268.00" y1="133.40" x2="429.50" y2="50.01" stroke="#9a1515" stroke-width="1.6" />
<line x1="281.46" y1="130.58" x2="281.46" y2="134.30" stroke="#f5c9a0" stroke-width="0.8" />
<line x1="279.66" y1="130.58" x2="283.26" y2="130.58" stroke="#f5c9a0" stroke-width="0.8" />
<line x1="279.66" y1="134.30" x2="283.26" y2="134.30" stroke="#f5c9a0" stroke-width="0.8" />
<line x1="294.92" y1="129.63" x2="294.92" y2="133.35" stroke="#f5c9a0" stroke-width="0.8" />
<line x1="293.12" y1="129.63" x2="296.72" y2="129.63" stroke="#f5c9a0" stroke-width="0.8" />
<line x1="293.12" y1="133.35" x2="296.72" y2="133.35" stroke="#f5c9a0" stroke-width="0.8" />
<line x1="308.38" y1="128.67" x2="308.38" y2="132.39" stroke="#f5c9a0" stroke-width="0.8" />
<line x1="306.57" y1="128.67" x2="310.18" y2="128.67" stroke="#f5c9a0" stroke-width="0.8" />
<line x1="306.57" y1="132.39" x2="310.18" y2="132.39" stroke="#f5c9a0" stroke-width="0.8" />
<line x1="321.83" y1="127.72" x2="321.83" y2="131.44" stroke="#f5c9a0" stroke-width="0.8" />
<line x1="320.03" y1="127.72" x2="323.63" y2="127.72" stroke="#f5c9a0" stroke-width="0.8" />
<line x1="320.03" y1="131.44" x2="323.63" y2="131.44" stroke="#f5c9a0" stroke-width="0.8" />
<line x1="335.29" y1="126.76" x2="335.29" y2="130.48" stroke="#f5c9a0" stroke-width="0.8" />
<line x1="333.49" y1="126.76" x2="337.09" y2="126.76" stroke="#f5c9a0" stroke-width="0.8" />
<line x1="333.49" y1="130.48" x2="337.09" y2="130.48" stroke="#f5c9a0" stroke-width="0.8" />
<line x1="348.75" y1="125.66" x2="348.75" y2="129.67" stroke="#f5c9a0" stroke-width="0.8" />
<line x1="346.95" y1="125.66" x2="350.55" y2="125.66" stroke="#f5c9a0" stroke-width="0.8" />
<line x1="346.95" y1="129.67" x2="350.55" y2="129.67" stroke="#f5c9a0" stroke-width="0.8" />
<line x1="362.21" y1="124.37" x2="362.21" y2="129.05" stroke="#f5c9a0" stroke-width="0.8" />
<line x1="360.41" y1="124.37" x2="364.01" y2="124.37" stroke="#f5c9a0" stroke-width="0.8" />
<line x1="360.41" y1="129.05" x2="364.01" y2="129.05" stroke="#f5c9a0" stroke-width="0.8" />
<line x1="375.67" y1="123.08" x2="375.67" y2="128.43" stroke="#f5c9a0" stroke-width="0.8" />
<line x1="373.87" y1="123.08" x2="377.47" y2="123.08" stroke="#f5c9a0" stroke-width="0.8" />
<line x1="373.87" y1="128.43" x2="377.47" y2="128.43" stroke="#f5c9a0" stroke-width="0.8" />
<line x1="389.12" y1="121.79" x2="389.12" y2="127.81" stroke="#f5c9a0" stroke-width="0.8" />
<line x1="387.32" y1="121.79" x2="390.93" y2="121.79" stroke="#f5c9a0" stroke-width="0.8" />
<line x1="387.32" y1="127.81" x2="390.93" y2="127.81" stroke="#f5c9a0" stroke-width="0.8" />
<line x1="402.58" y1="120.50" x2="402.58" y2="127.19" stroke="#f5c9a0" stroke-width="0.8" />
<line x1="400.78" y1="120.50" x2="404.38" y2="120.50" stroke="#f5c9a0" stroke-width="0.8" />
<line x1="400.78" y1="127.19" x2="404.38" y2="127.19" stroke="#f5c9a0" stroke-width="0.8" />
<line x1="416.04" y1="119.21" x2="416.04" y2="126.57" stroke="#f5c9a0" stroke-width="0.8" />
<line x1="414.24" y1="119.21" x2="417.84" y2="119.21" stroke="#f5c9a0" stroke-width="0.8" />
<line x1="414.24" y1="126.57" x2="417.84" y2="126.57" stroke="#f5c9a0" stroke-width="0.8" />
<line x1="429.50" y1="117.92" x2="429.50" y2="125.94" stroke="#f5c9a0" stroke-width="0.8" />
<line x1="427.70" y1="117.92" x2="431.30" y2="117.92" stroke="#f5c9a0" stroke-width="0.8" />
<line x1="427.70" y1="125.94" x2="431.30" y2="125.94" stroke="#f5c9a0" stroke-width="0.8" />
<line x1="281.46" y1="128.98" x2="281.46" y2="132.70" stroke="#d98a8e" stroke-width="0.8" />
<line x1="279.66" y1="128.98" x2="283.26" y2="128.98" stroke="#d98a8e" stroke-width="0.8" />
<line x1="279.66" y1="132.70" x2="283.26" y2="132.70" stroke="#d98a8e" stroke-width="0.8" />
<line x1="294.92" y1="126.43" x2="294.92" y2="130.15" stroke="#d98a8e" stroke-width="0.8" />
<line x1="293.12" y1="126.43" x2="296.72" y2="126.43" stroke="#d98a8e" stroke-width="0.8" />
<line x1="293.12" y1="130.15" x2="296.72" y2="130.15" stroke="#d98a8e" stroke-width="0.8" />
<line x1="308.38" y1="123.87" x2="308.38" y2="127.59" stroke="#d98a8e" stroke-width="0.8" />
<line x1="306.57" y1="123.87" x2="310.18" y2="123.87" stroke="#d98a8e" stroke-width="0.8" />
<line x1="306.57" y1="127.59" x2="310.18" y2="127.59" stroke="#d98a8e" stroke-width="0.8" />
<line x1="321.83" y1="121.31" x2="321.83" y2="125.03" stroke="#d98a8e" stroke-width="0.8" />
<line x1="320.03" y1="121.31" x2="323.63" y2="121.31" stroke="#d98a8e" stroke-width="0.8" />
<line x1="320.03" y1="125.03" x2="323.63" y2="125.03" stroke="#d98a8e" stroke-width="0.8" />
<line x1="335.29" y1="118.69" x2="335.29" y2="122.53" stroke="#d98a8e" stroke-width="0.8" />
<line x1="333.49" y1="118.69" x2="337.09" y2="118.69" stroke="#d98a8e" stroke-width="0.8" />
<line x1="333.49" y1="122.53" x2="337.09" y2="122.53" stroke="#d98a8e" stroke-width="0.8" />
<line x1="348.75" y1="115.75" x2="348.75" y2="120.36" stroke="#d98a8e" stroke-width="0.8" />
<line x1="346.95" y1="115.75" x2="350.55" y2="115.75" stroke="#d98a8e" stroke-width="0.8" />
<line x1="346.95" y1="120.36" x2="350.55" y2="120.36" stroke="#d98a8e" stroke-width="0.8" />
<line x1="362.21" y1="112.81" x2="362.21" y2="118.18" stroke="#d98a8e" stroke-width="0.8" />
<line x1="360.41" y1="112.81" x2="364.01" y2="112.81" stroke="#d98a8e" stroke-width="0.8" />
<line x1="360.41" y1="118.18" x2="364.01" y2="118.18" stroke="#d98a8e" stroke-width="0.8" />
<line x1="375.67" y1="109.87" x2="375.67" y2="116.01" stroke="#d98a8e" stroke-width="0.8" />
<line x1="373.87" y1="109.87" x2="377.47" y2="109.87" stroke="#d98a8e" stroke-width="0.8" />
<line x1="373.87" y1="116.01" x2="377.47" y2="116.01" stroke="#d98a8e" stroke-width="0.8" />
<line x1="389.12" y1="106.93" x2="389.12" y2="113.84" stroke="#d98a8e" stroke-width="0.8" />
<line x1="387.32" y1="106.93" x2="390.93" y2="106.93" stroke="#d98a8e" stroke-width="0.8" />
<line x1="387.32" y1="113.84" x2="390.93" y2="113.84" stroke="#d98a8e" stroke-width="0.8" />
<line x1="402.58" y1="103.99" x2="402.58" y2="111.66" stroke="#d98a8e" stroke-width="0.8" />
<line x1="400.78" y1="103.99" x2="404.38" y2="103.99" stroke="#d98a8e" stroke-width="0.8" />
<line x1="400.78" y1="111.66" x2="404.38" y2="111.66" stroke="#d98a8e" stroke-width="0.8" />
<line x1="416.04" y1="101.05" x2="416.04" y2="109.49" stroke="#d98a8e" stroke-width="0.8" />
<line x1="414.24" y1="101.05" x2="417.84" y2="101.05" stroke="#d98a8e" stroke-width="0.8" />
<line x1="414.24" y1="109.49" x2="417.84" y2="109.49" stroke="#d98a8e" stroke-width="0.8" />
<line x1="429.50" y1="98.11" x2="429.50" y2="107.31" stroke="#d98a8e" stroke-width="0.8" />
<line x1="427.70" y1="98.11" x2="431.30" y2="98.11" stroke="#d98a8e" stroke-width="0.8" />
<line x1="427.70" y1="107.31" x2="431.30" y2="107.31" stroke="#d98a8e" stroke-width="0.8" />
<line x1="281.46" y1="125.47" x2="281.46" y2="129.19" stroke="#d9b88e" stroke-width="0.8" />
<line x1="279.66" y1="125.47" x2="283.26" y2="125.47" stroke="#d9b88e" stroke-width="0.8" />
<line x1="279.66" y1="129.19" x2="283.26" y2="129.19" stroke="#d9b88e" stroke-width="0.8" />
<line x1="294.92" y1="117.62" x2="294.92" y2="124.90" stroke="#d9b88e" stroke-width="0.8" />
<line x1="293.12" y1="117.62" x2="296.72" y2="117.62" stroke="#d9b88e" stroke-width="0.8" />
<line x1="293.12" y1="124.90" x2="296.72" y2="124.90" stroke="#d9b88e" stroke-width="0.8" />
<line x1="308.38" y1="109.72" x2="308.38" y2="120.65" stroke="#d9b88e" stroke-width="0.8" />
<line x1="306.57" y1="109.72" x2="310.18" y2="109.72" stroke="#d9b88e" stroke-width="0.8" />
<line x1="306.57" y1="120.65" x2="310.18" y2="120.65" stroke="#d9b88e" stroke-width="0.8" />
<line x1="321.83" y1="101.83" x2="321.83" y2="116.40" stroke="#d9b88e" stroke-width="0.8" />
<line x1="320.03" y1="101.83" x2="323.63" y2="101.83" stroke="#d9b88e" stroke-width="0.8" />
<line x1="320.03" y1="116.40" x2="323.63" y2="116.40" stroke="#d9b88e" stroke-width="0.8" />
<line x1="335.29" y1="93.94" x2="335.29" y2="112.15" stroke="#d9b88e" stroke-width="0.8" />
<line x1="333.49" y1="93.94" x2="337.09" y2="93.94" stroke="#d9b88e" stroke-width="0.8" />
<line x1="333.49" y1="112.15" x2="337.09" y2="112.15" stroke="#d9b88e" stroke-width="0.8" />
<line x1="348.75" y1="86.05" x2="348.75" y2="107.90" stroke="#d9b88e" stroke-width="0.8" />
<line x1="346.95" y1="86.05" x2="350.55" y2="86.05" stroke="#d9b88e" stroke-width="0.8" />
<line x1="346.95" y1="107.90" x2="350.55" y2="107.90" stroke="#d9b88e" stroke-width="0.8" />
<line x1="362.21" y1="78.16" x2="362.21" y2="103.65" stroke="#d9b88e" stroke-width="0.8" />
<line x1="360.41" y1="78.16" x2="364.01" y2="78.16" stroke="#d9b88e" stroke-width="0.8" />
<line x1="360.41" y1="103.65" x2="364.01" y2="103.65" stroke="#d9b88e" stroke-width="0.8" />
<line x1="375.67" y1="70.26" x2="375.67" y2="99.40" stroke="#d9b88e" stroke-width="0.8" />
<line x1="373.87" y1="70.26" x2="377.47" y2="70.26" stroke="#d9b88e" stroke-width="0.8" />
<line x1="373.87" y1="99.40" x2="377.47" y2="99.40" stroke="#d9b88e" stroke-width="0.8" />
<line x1="389.12" y1="62.37" x2="389.12" y2="95.15" stroke="#d9b88e" stroke-width="0.8" />
<line x1="387.32" y1="62.37" x2="390.93" y2="62.37" stroke="#d9b88e" stroke-width="0.8" />
<line x1="387.32" y1="95.15" x2="390.93" y2="95.15" stroke="#d9b88e" stroke-width="0.8" />
<line x1="402.58" y1="54.48" x2="402.58" y2="90.90" stroke="#d9b88e" stroke-width="0.8" />
<line x1="400.78" y1="54.48" x2="404.38" y2="54.48" stroke="#d9b88e" stroke-width="0.8" />
<line x1="400.78" y1="90.90" x2="404.38" y2="90.90" stroke="#d9b88e" stroke-width="0.8" />
<line x1="416.04" y1="46.59" x2="416.04" y2="86.65" stroke="#d9b88e" stroke-width="0.8" />
<line x1="414.24" y1="46.59" x2="417.84" y2="46.59" stroke="#d9b88e" stroke-width="0.8" />
<line x1="414.24" y1="86.65" x2="417.84" y2="86.65" stroke="#d9b88e" stroke-width="0.8" />
<line x1="429.50" y1="38.70" x2="429.50" y2="82.41" stroke="#d9b88e" stroke-width="0.8" />
<line x1="427.70" y1="38.70" x2="431.30" y2="38.70" stroke="#d9b88e" stroke-width="0.8" />
<line x1="427.70" y1="82.41" x2="431.30" y2="82.41" stroke="#d9b88e" stroke-width="0.8" />
<line x1="281.46" y1="124.59" x2="281.46" y2="128.31" stroke="#b06060" stroke-width="0.8" />
<line x1="279.66" y1="124.59" x2="283.26" y2="124.59" stroke="#b06060" stroke-width="0.8" />
<line x1="279.66" y1="128.31" x2="283.26" y2="128.31" stroke="#b06060" stroke-width="0.8" />
<line x1="294.92" y1="117.42" x2="294.92" y2="121.59" stroke="#b06060" stroke-width="0.8" />
<line x1="293.12" y1="117.42" x2="296.72" y2="117.42" stroke="#b06060" stroke-width="0.8" />
<line x1="293.12" y1="121.59" x2="296.72" y2="121.59" stroke="#b06060" stroke-width="0.8" />
<line x1="308.38" y1="109.43" x2="308.38" y2="115.68" stroke="#b06060" stroke-width="0.8" />
<line x1="306.57" y1="109.43" x2="310.18" y2="109.43" stroke="#b06060" stroke-width="0.8" />
<line x1="306.57" y1="115.68" x2="310.18" y2="115.68" stroke="#b06060" stroke-width="0.8" />
<line x1="321.83" y1="101.43" x2="321.83" y2="109.77" stroke="#b06060" stroke-width="0.8" />
<line x1="320.03" y1="101.43" x2="323.63" y2="101.43" stroke="#b06060" stroke-width="0.8" />
<line x1="320.03" y1="109.77" x2="323.63" y2="109.77" stroke="#b06060" stroke-width="0.8" />
<line x1="335.29" y1="93.44" x2="335.29" y2="103.87" stroke="#b06060" stroke-width="0.8" />
<line x1="333.49" y1="93.44" x2="337.09" y2="93.44" stroke="#b06060" stroke-width="0.8" />
<line x1="333.49" y1="103.87" x2="337.09" y2="103.87" stroke="#b06060" stroke-width="0.8" />
<line x1="348.75" y1="85.45" x2="348.75" y2="97.96" stroke="#b06060" stroke-width="0.8" />
<line x1="346.95" y1="85.45" x2="350.55" y2="85.45" stroke="#b06060" stroke-width="0.8" />
<line x1="346.95" y1="97.96" x2="350.55" y2="97.96" stroke="#b06060" stroke-width="0.8" />
<line x1="362.21" y1="77.46" x2="362.21" y2="92.05" stroke="#b06060" stroke-width="0.8" />
<line x1="360.41" y1="77.46" x2="364.01" y2="77.46" stroke="#b06060" stroke-width="0.8" />
<line x1="360.41" y1="92.05" x2="364.01" y2="92.05" stroke="#b06060" stroke-width="0.8" />
<line x1="375.67" y1="69.47" x2="375.67" y2="86.15" stroke="#b06060" stroke-width="0.8" />
<line x1="373.87" y1="69.47" x2="377.47" y2="69.47" stroke="#b06060" stroke-width="0.8" />
<line x1="373.87" y1="86.15" x2="377.47" y2="86.15" stroke="#b06060" stroke-width="0.8" />
<line x1="389.12" y1="61.48" x2="389.12" y2="80.24" stroke="#b06060" stroke-width="0.8" />
<line x1="387.32" y1="61.48" x2="390.93" y2="61.48" stroke="#b06060" stroke-width="0.8" />
<line x1="387.32" y1="80.24" x2="390.93" y2="80.24" stroke="#b06060" stroke-width="0.8" />
<line x1="402.58" y1="53.48" x2="402.58" y2="74.33" stroke="#b06060" stroke-width="0.8" />
<line x1="400.78" y1="53.48" x2="404.38" y2="53.48" stroke="#b06060" stroke-width="0.8" />
<line x1="400.78" y1="74.33" x2="404.38" y2="74.33" stroke="#b06060" stroke-width="0.8" />
<line x1="416.04" y1="45.49" x2="416.04" y2="68.43" stroke="#b06060" stroke-width="0.8" />
<line x1="414.24" y1="45.49" x2="417.84" y2="45.49" stroke="#b06060" stroke-width="0.8" />
<line x1="414.24" y1="68.43" x2="417.84" y2="68.43" stroke="#b06060" stroke-width="0.8" />
<line x1="429.50" y1="37.50" x2="429.50" y2="62.52" stroke="#b06060" stroke-width="0.8" />
<line x1="427.70" y1="37.50" x2="431.30" y2="37.50" stroke="#b06060" stroke-width="0.8" />
<line x1="427.70" y1="62.52" x2="431.30" y2="62.52" stroke="#b06060" stroke-width="0.8" />
<circle cx="268.00" cy="133.40" r="2.30" fill="#f2b27a"/>
<circle cx="281.46" cy="132.44" r="2.30" fill="#f2b27a"/>
<circle cx="294.92" cy="131.49" r="2.30" fill="#f2b27a"/>
<circle cx="308.38" cy="130.53" r="2.30" fill="#f2b27a"/>
<circle cx="321.83" cy="129.58" r="2.30" fill="#f2b27a"/>
<circle cx="335.29" cy="128.62" r="2.30" fill="#f2b27a"/>
<circle cx="348.75" cy="127.67" r="2.30" fill="#f2b27a"/>
<circle cx="362.21" cy="126.71" r="2.30" fill="#f2b27a"/>
<circle cx="375.67" cy="125.75" r="2.30" fill="#f2b27a"/>
<circle cx="389.12" cy="124.80" r="2.30" fill="#f2b27a"/>
<circle cx="402.58" cy="123.84" r="2.30" fill="#f2b27a"/>
<circle cx="416.04" cy="122.89" r="2.30" fill="#f2b27a"/>
<circle cx="429.50" cy="121.93" r="2.30" fill="#f2b27a"/>
<rect x="265.70" y="131.10" width="4.60" height="4.60" fill="#e83a3e"/>
<rect x="279.16" y="128.54" width="4.60" height="4.60" fill="#e83a3e"/>
<rect x="292.62" y="125.98" width="4.60" height="4.60" fill="#e83a3e"/>
<rect x="306.07" y="123.43" width="4.60" height="4.60" fill="#e83a3e"/>
<rect x="319.53" y="120.87" width="4.60" height="4.60" fill="#e83a3e"/>
<rect x="332.99" y="118.31" width="4.60" height="4.60" fill="#e83a3e"/>
<rect x="346.45" y="115.76" width="4.60" height="4.60" fill="#e83a3e"/>
<rect x="359.91" y="113.20" width="4.60" height="4.60" fill="#e83a3e"/>
<rect x="373.37" y="110.64" width="4.60" height="4.60" fill="#e83a3e"/>
<rect x="386.82" y="108.08" width="4.60" height="4.60" fill="#e83a3e"/>
<rect x="400.28" y="105.53" width="4.60" height="4.60" fill="#e83a3e"/>
<rect x="413.74" y="102.97" width="4.60" height="4.60" fill="#e83a3e"/>
<rect x="427.20" y="100.41" width="4.60" height="4.60" fill="#e83a3e"/>
<polygon points="265.36,135.47 270.64,135.47 268.00,130.64" fill="#c8955a"/>
<polygon points="278.81,129.40 284.10,129.40 281.46,124.57" fill="#c8955a"/>
<polygon points="292.27,123.33 297.56,123.33 294.92,118.50" fill="#c8955a"/>
<polygon points="305.73,117.26 311.02,117.26 308.38,112.43" fill="#c8955a"/>
<polygon points="319.19,111.19 324.48,111.19 321.83,106.36" fill="#c8955a"/>
<polygon points="332.65,105.12 337.94,105.12 335.29,100.29" fill="#c8955a"/>
<polygon points="346.11,99.04 351.39,99.04 348.75,94.21" fill="#c8955a"/>
<polygon points="359.56,92.97 364.85,92.97 362.21,88.14" fill="#c8955a"/>
<polygon points="373.02,86.90 378.31,86.90 375.67,82.07" fill="#c8955a"/>
<polygon points="386.48,80.83 391.77,80.83 389.12,76.00" fill="#c8955a"/>
<polygon points="399.94,74.76 405.23,74.76 402.58,69.93" fill="#c8955a"/>
<polygon points="413.40,68.69 418.69,68.69 416.04,63.86" fill="#c8955a"/>
<polygon points="426.86,62.62 432.14,62.62 429.50,57.79" fill="#c8955a"/>
<polygon points="265.36,131.33 270.64,131.33 268.00,136.16" fill="#9a1212"/>
<polygon points="278.81,124.38 284.10,124.38 281.46,129.21" fill="#9a1212"/>
<polygon points="292.27,117.43 297.56,117.43 294.92,122.26" fill="#9a1212"/>
<polygon points="305.73,110.48 311.02,110.48 308.38,115.31" fill="#9a1212"/>
<polygon points="319.19,103.53 324.48,103.53 321.83,108.36" fill="#9a1212"/>
<polygon points="332.65,96.58 337.94,96.58 335.29,101.41" fill="#9a1212"/>
<polygon points="346.11,89.64 351.39,89.64 348.75,94.47" fill="#9a1212"/>
<polygon points="359.56,82.69 364.85,82.69 362.21,87.52" fill="#9a1212"/>
<polygon points="373.02,75.74 378.31,75.74 375.67,80.57" fill="#9a1212"/>
<polygon points="386.48,68.79 391.77,68.79 389.12,73.62" fill="#9a1212"/>
<polygon points="399.94,61.84 405.23,61.84 402.58,66.67" fill="#9a1212"/>
<polygon points="413.40,54.89 418.69,54.89 416.04,59.72" fill="#9a1212"/>
<polygon points="426.86,47.94 432.14,47.94 429.50,52.77" fill="#9a1212"/>
<rect x="268" y="24.4" width="163" height="109.0" fill="none" stroke="#000" stroke-width="1.1"/>
<line x1="265.00" y1="133.40" x2="268.00" y2="133.40" stroke="#000" stroke-width="1" />
<text x="264" y="136.1" font-size="8" font-weight="bold" text-anchor="end" fill="#000" stroke="#000" stroke-width="0.2" font-family='"Liberation Sans", sans-serif' >0</text>
<line x1="266.40" y1="125.65" x2="268.00" y2="125.65" stroke="#000" stroke-width="1" />
<line x1="265.00" y1="117.90" x2="268.00" y2="117.90" stroke="#000" stroke-width="1" />
<text x="264" y="120.60000000000001" font-size="8" font-weight="bold" text-anchor="end" fill="#000" stroke="#000" stroke-width="0.2" font-family='"Liberation Sans", sans-serif' >5</text>
<line x1="266.40" y1="110.15" x2="268.00" y2="110.15" stroke="#000" stroke-width="1" />
<line x1="265.00" y1="102.40" x2="268.00" y2="102.40" stroke="#000" stroke-width="1" />
<text x="264" y="105.10000000000001" font-size="8" font-weight="bold" text-anchor="end" fill="#000" stroke="#000" stroke-width="0.2" font-family='"Liberation Sans", sans-serif' >10</text>
<line x1="266.40" y1="94.65" x2="268.00" y2="94.65" stroke="#000" stroke-width="1" />
<line x1="265.00" y1="86.90" x2="268.00" y2="86.90" stroke="#000" stroke-width="1" />
<text x="264" y="89.60000000000001" font-size="8" font-weight="bold" text-anchor="end" fill="#000" stroke="#000" stroke-width="0.2" font-family='"Liberation Sans", sans-serif' >15</text>
<line x1="266.40" y1="79.15" x2="268.00" y2="79.15" stroke="#000" stroke-width="1" />
<line x1="265.00" y1="71.40" x2="268.00" y2="71.40" stroke="#000" stroke-width="1" />
<text x="264" y="74.10000000000001" font-size="8" font-weight="bold" text-anchor="end" fill="#000" stroke="#000" stroke-width="0.2" font-family='"Liberation Sans", sans-serif' >20</text>
<line x1="266.40" y1="63.65" x2="268.00" y2="63.65" stroke="#000" stroke-width="1" />
<line x1="265.00" y1="55.90" x2="268.00" y2="55.90" stroke="#000" stroke-width="1" />
<text x="264" y="58.60000000000001" font-size="8" font-weight="bold" text-anchor="end" fill="#000" stroke="#000" stroke-width="0.2" font-family='"Liberation Sans", sans-serif' >25</text>
<line x1="266.40" y1="48.15" x2="268.00" y2="48.15" stroke="#000" stroke-width="1" />
<line x1="265.00" y1="40.40" x2="268.00" y2="40.40" stroke="#000" stroke-width="1" />
<text x="264" y="43.10000000000001" font-size="8" font-weight="bold" text-anchor="end" fill="#000" stroke="#000" stroke-width="0.2" font-family='"Liberation Sans", sans-serif' >30</text>
<line x1="266.40" y1="32.65" x2="268.00" y2="32.65" stroke="#000" stroke-width="1" />
<line x1="265.00" y1="24.90" x2="268.00" y2="24.90" stroke="#000" stroke-width="1" />
<text x="264" y="27.600000000000005" font-size="8" font-weight="bold" text-anchor="end" fill="#000" stroke="#000" stroke-width="0.2" font-family='"Liberation Sans", sans-serif' >35</text>
<line x1="268.00" y1="133.40" x2="268.00" y2="136.40" stroke="#000" stroke-width="1" />
<text x="268.0" y="144.6" font-size="8" font-weight="bold" text-anchor="middle" fill="#000" stroke="#000" stroke-width="0.2" font-family='"Liberation Sans", sans-serif' >0</text>
<line x1="281.46" y1="133.40" x2="281.46" y2="135.00" stroke="#000" stroke-width="1" />
<line x1="294.92" y1="133.40" x2="294.92" y2="136.40" stroke="#000" stroke-width="1" />
<text x="294.9166666666667" y="144.6" font-size="8" font-weight="bold" text-anchor="middle" fill="#000" stroke="#000" stroke-width="0.2" font-family='"Liberation Sans", sans-serif' >120</text>
<line x1="308.38" y1="133.40" x2="308.38" y2="135.00" stroke="#000" stroke-width="1" />
<line x1="321.83" y1="133.40" x2="321.83" y2="136.40" stroke="#000" stroke-width="1" />
<text x="321.8333333333333" y="144.6" font-size="8" font-weight="bold" text-anchor="middle" fill="#000" stroke="#000" stroke-width="0.2" font-family='"Liberation Sans", sans-serif' >240</text>
<line x1="335.29" y1="133.40" x2="335.29" y2="135.00" stroke="#000" stroke-width="1" />
<line x1="348.75" y1="133.40" x2="348.75" y2="136.40" stroke="#000" stroke-width="1" />
<text x="348.75" y="144.6" font-size="8" font-weight="bold" text-anchor="middle" fill="#000" stroke="#000" stroke-width="0.2" font-family='"Liberation Sans", sans-serif' >360</text>
<line x1="362.21" y1="133.40" x2="362.21" y2="135.00" stroke="#000" stroke-width="1" />
<line x1="375.67" y1="133.40" x2="375.67" y2="136.40" stroke="#000" stroke-width="1" />
<text x="375.6666666666667" y="144.6" font-size="8" font-weight="bold" text-anchor="middle" fill="#000" stroke="#000" stroke-width="0.2" font-family='"Liberation Sans", sans-serif' >480</text>
<line x1="389.12" y1="133.40" x2="389.12" y2="135.00" stroke="#000" stroke-width="1" />
<line x1="402.58" y1="133.40" x2="402.58" y2="136.40" stroke="#000" stroke-width="1" />
<text x="402.58333333333337" y="144.6" font-size="8" font-weight="bold" text-anchor="middle" fill="#000" stroke="#000" stroke-width="0.2" font-family='"Liberation Sans", sans-serif' >600</text>
<line x1="416.04" y1="133.40" x2="416.04" y2="135.00" stroke="#000" stroke-width="1" />
<line x1="429.50" y1="133.40" x2="429.50" y2="136.40" stroke="#000" stroke-width="1" />
<text x="429.5" y="144.6" font-size="8" font-weight="bold" text-anchor="middle" fill="#000" stroke="#000" stroke-width="0.2" font-family='"Liberation Sans", sans-serif' >720</text>
<text x="350" y="157.2" font-size="8.7" font-weight="bold" text-anchor="middle" fill="#000" stroke="#000" stroke-width="0.2" font-family='"Liberation Sans", sans-serif' >Time (min)</text>
<text x="248.3" y="78.4" font-size="9" font-weight="bold" text-anchor="middle" stroke="#000" stroke-width="0.2" font-family='"Liberation Sans", sans-serif' transform="rotate(-90 248.3 78.4)">Quercetin permeation ( <tspan font-weight="normal" stroke-width="0.3">μg.cm</tspan><tspan font-weight="normal" stroke-width="0.2" font-size="6.5" dy="-3.8">-2</tspan><tspan dy="3.8">)</tspan></text>
<line x1="457.40" y1="27.90" x2="469.60" y2="27.90" stroke="#f2b27a" stroke-width="1.5" />
<circle cx="463.50" cy="27.90" r="2.30" fill="#f2b27a"/>
<text x="476" y="31.099999999999998" font-size="9" font-weight="normal" text-anchor="start" fill="#000" font-family='"Liberation Sans", sans-serif' >NLC1 + Q</text>
<line x1="457.40" y1="41.60" x2="469.60" y2="41.60" stroke="#e83a3e" stroke-width="1.5" />
<rect x="461.20" y="39.30" width="4.60" height="4.60" fill="#e83a3e"/>
<text x="476" y="44.80" font-size="9" fill="#000" font-family='"Liberation Sans", sans-serif'>NLC1 + Q + <tspan font-family='"Liberation Serif", serif' font-size="10">ω</tspan><tspan font-size="6.5" dy="2.5">3</tspan></text>
<line x1="457.40" y1="55.30" x2="469.60" y2="55.30" stroke="#c8955a" stroke-width="1.5" />
<polygon points="460.86,57.37 466.14,57.37 463.50,52.54" fill="#c8955a"/>
<text x="476" y="58.5" font-size="9" font-weight="normal" text-anchor="start" fill="#000" font-family='"Liberation Sans", sans-serif' >NLC2 + Q</text>
<line x1="457.40" y1="69.00" x2="469.60" y2="69.00" stroke="#9a1212" stroke-width="1.5" />
<polygon points="460.86,66.93 466.14,66.93 463.50,71.76" fill="#9a1212"/>
<text x="476" y="72.20" font-size="9" fill="#000" font-family='"Liberation Sans", sans-serif'>NLC2 + Q + <tspan font-family='"Liberation Serif", serif' font-size="10">ω</tspan><tspan font-size="6.5" dy="2.5">3</tspan></text>
<line x1="59.00" y1="272.19" x2="59.00" y2="260.82" stroke="#8a8a8a" stroke-width="1" />
<line x1="56.80" y1="260.82" x2="61.20" y2="260.82" stroke="#8a8a8a" stroke-width="1" />
<rect x="54.00" y="272.19" width="10" height="27.01" fill="#dadada" stroke="#888" stroke-width="0.8"/>
<line x1="59.00" y1="299.20" x2="59.00" y2="302.20" stroke="#000" stroke-width="1" />
<text x="60.80" y="310.70" font-size="8" font-weight="bold" text-anchor="end" font-family='"Liberation Sans", sans-serif' transform="rotate(-45 60.80 310.70)">NLC1 Placebo</text>
<line x1="79.17" y1="226.73" x2="79.17" y2="204.86" stroke="#8a8a8a" stroke-width="1" />
<line x1="76.97" y1="204.86" x2="81.37" y2="204.86" stroke="#8a8a8a" stroke-width="1" />
<rect x="74.17" y="226.73" width="10" height="72.47" fill="#f0b27a" stroke="#c98a55" stroke-width="0.8"/>
<line x1="79.17" y1="299.20" x2="79.17" y2="302.20" stroke="#000" stroke-width="1" />
<text x="80.97" y="310.70" font-size="8" font-weight="bold" text-anchor="end" font-family='"Liberation Sans", sans-serif' transform="rotate(-45 80.97 310.70)">NLC1+Q</text>
<line x1="99.34" y1="245.81" x2="99.34" y2="234.88" stroke="#8a8a8a" stroke-width="1" />
<line x1="97.14" y1="234.88" x2="101.54" y2="234.88" stroke="#8a8a8a" stroke-width="1" />
<rect x="94.34" y="245.81" width="10" height="53.39" fill="#da85ee" stroke="#a060b0" stroke-width="0.8"/>
<line x1="99.34" y1="299.20" x2="99.34" y2="302.20" stroke="#000" stroke-width="1" />
<text x="101.14" y="310.70" font-size="8" font-weight="bold" text-anchor="end" font-family='"Liberation Sans", sans-serif' transform="rotate(-45 101.14 310.70)">NLC1+ω3</text>
<line x1="119.51" y1="264.47" x2="119.51" y2="248.60" stroke="#8a8a8a" stroke-width="1" />
<line x1="117.31" y1="248.60" x2="121.71" y2="248.60" stroke="#8a8a8a" stroke-width="1" />
<rect x="114.51" y="264.47" width="10" height="34.73" fill="#f0403f" stroke="#b03030" stroke-width="0.8"/>
<line x1="119.51" y1="299.20" x2="119.51" y2="302.20" stroke="#000" stroke-width="1" />
<text x="121.31" y="310.70" font-size="8" font-weight="bold" text-anchor="end" font-family='"Liberation Sans", sans-serif' transform="rotate(-45 121.31 310.70)">NLC1+Q+ω3</text>
<line x1="139.68" y1="256.53" x2="139.68" y2="229.95" stroke="#8a8a8a" stroke-width="1" />
<line x1="137.48" y1="229.95" x2="141.88" y2="229.95" stroke="#8a8a8a" stroke-width="1" />
<rect x="134.68" y="256.53" width="10" height="42.67" fill="#a5a5a5" stroke="#666" stroke-width="0.8"/>
<line x1="139.68" y1="299.20" x2="139.68" y2="302.20" stroke="#000" stroke-width="1" />
<text x="141.48" y="310.70" font-size="8" font-weight="bold" text-anchor="end" font-family='"Liberation Sans", sans-serif' transform="rotate(-45 141.48 310.70)">NLC2 Placebo</text>
<line x1="159.85" y1="247.74" x2="159.85" y2="233.81" stroke="#8a8a8a" stroke-width="1" />
<line x1="157.65" y1="233.81" x2="162.05" y2="233.81" stroke="#8a8a8a" stroke-width="1" />
<rect x="154.85" y="247.74" width="10" height="51.46" fill="#c8955a" stroke="#9a7040" stroke-width="0.8"/>
<line x1="159.85" y1="299.20" x2="159.85" y2="302.20" stroke="#000" stroke-width="1" />
<text x="161.65" y="310.70" font-size="8" font-weight="bold" text-anchor="end" font-family='"Liberation Sans", sans-serif' transform="rotate(-45 161.65 310.70)">NLC2+Q</text>
<line x1="180.02" y1="266.61" x2="180.02" y2="254.82" stroke="#8a8a8a" stroke-width="1" />
<line x1="177.82" y1="254.82" x2="182.22" y2="254.82" stroke="#8a8a8a" stroke-width="1" />
<rect x="175.02" y="266.61" width="10" height="32.59" fill="#b450d8" stroke="#80309a" stroke-width="0.8"/>
<line x1="180.02" y1="299.20" x2="180.02" y2="302.20" stroke="#000" stroke-width="1" />
<text x="181.82" y="310.70" font-size="8" font-weight="bold" text-anchor="end" font-family='"Liberation Sans", sans-serif' transform="rotate(-45 181.82 310.70)">NLC2+ω3</text>
<line x1="200.19" y1="254.39" x2="200.19" y2="246.03" stroke="#8a8a8a" stroke-width="1" />
<line x1="197.99" y1="246.03" x2="202.39" y2="246.03" stroke="#8a8a8a" stroke-width="1" />
<rect x="195.19" y="254.39" width="10" height="44.81" fill="#a00000" stroke="#700000" stroke-width="0.8"/>
<line x1="200.19" y1="299.20" x2="200.19" y2="302.20" stroke="#000" stroke-width="1" />
<text x="201.99" y="310.70" font-size="8" font-weight="bold" text-anchor="end" font-family='"Liberation Sans", sans-serif' transform="rotate(-45 201.99 310.70)">NLC2+Q+ω3</text>
<rect x="48.8" y="192.0" width="161.0" height="107.19999999999999" fill="none" stroke="#000" stroke-width="1.1"/>
<line x1="45.80" y1="299.20" x2="48.80" y2="299.20" stroke="#000" stroke-width="1" />
<text x="45.8" y="302.0" font-size="8.5" font-weight="bold" text-anchor="end" fill="#000" stroke="#000" stroke-width="0.2" font-family='"Liberation Sans", sans-serif' >0</text>
<line x1="45.80" y1="277.76" x2="48.80" y2="277.76" stroke="#000" stroke-width="1" />
<text x="45.8" y="280.56" font-size="8.5" font-weight="bold" text-anchor="end" fill="#000" stroke="#000" stroke-width="0.2" font-family='"Liberation Sans", sans-serif' >10</text>
<line x1="45.80" y1="256.32" x2="48.80" y2="256.32" stroke="#000" stroke-width="1" />
<text x="45.8" y="259.12" font-size="8.5" font-weight="bold" text-anchor="end" fill="#000" stroke="#000" stroke-width="0.2" font-family='"Liberation Sans", sans-serif' >20</text>
<line x1="45.80" y1="234.88" x2="48.80" y2="234.88" stroke="#000" stroke-width="1" />
<text x="45.8" y="237.68" font-size="8.5" font-weight="bold" text-anchor="end" fill="#000" stroke="#000" stroke-width="0.2" font-family='"Liberation Sans", sans-serif' >30</text>
<line x1="45.80" y1="213.44" x2="48.80" y2="213.44" stroke="#000" stroke-width="1" />
<text x="45.8" y="216.24" font-size="8.5" font-weight="bold" text-anchor="end" fill="#000" stroke="#000" stroke-width="0.2" font-family='"Liberation Sans", sans-serif' >40</text>
<line x1="45.80" y1="192.00" x2="48.80" y2="192.00" stroke="#000" stroke-width="1" />
<text x="45.8" y="194.8" font-size="8.5" font-weight="bold" text-anchor="end" fill="#000" stroke="#000" stroke-width="0.2" font-family='"Liberation Sans", sans-serif' >50</text>
<text x="30.3" y="247.1" font-size="9" font-weight="bold" text-anchor="middle" fill="#000" stroke="#000" stroke-width="0.2" font-family='"Liberation Sans", sans-serif' transform="rotate(-90 30.3 247.1)" >Occlusive effect (%)</text>
<text x="79.2" y="205" font-size="13" font-weight="bold" text-anchor="middle" fill="#000" stroke="#000" stroke-width="0.2" font-family='"Liberation Sans", sans-serif' >*</text>
<polyline points="95,222.8 95,219.8 204.5,219.8 204.5,222.8" fill="none" stroke="#999" stroke-width="1"/>
<text x="152.4" y="215" font-size="9" font-weight="bold" text-anchor="middle" fill="#000" stroke="#000" stroke-width="0.2" font-family='"Liberation Sans", sans-serif' >ns</text>
<polyline points="286.0,199.6 306.6,199.6 306.6,289.2 326.6,289.2 326.6,199.6 348.2,199.6 348.2,289.2 367.8,289.2 367.8,199.6 389.4,199.6 389.4,289.2 408.6,289.2 408.6,199.6 422.0,199.6" fill="none" stroke="#aaaaaa" stroke-width="1" stroke-dasharray="3,2"/>
<line x1="285.20" y1="280.50" x2="306.40" y2="280.50" stroke="#7a1010" stroke-width="2" />
<line x1="285.20" y1="267.80" x2="306.40" y2="267.80" stroke="#e03535" stroke-width="2" />
<line x1="285.20" y1="264.80" x2="306.40" y2="264.80" stroke="#2020d0" stroke-width="2" />
<line x1="326.60" y1="280.50" x2="348.00" y2="280.50" stroke="#7a1010" stroke-width="2" />
<line x1="326.60" y1="267.80" x2="348.00" y2="267.80" stroke="#e03535" stroke-width="2" />
<line x1="326.60" y1="264.80" x2="348.00" y2="264.80" stroke="#2020d0" stroke-width="2" />
<line x1="368.00" y1="280.50" x2="389.40" y2="280.50" stroke="#7a1010" stroke-width="2" />
<line x1="368.00" y1="267.80" x2="389.40" y2="267.80" stroke="#e03535" stroke-width="2" />
<line x1="368.00" y1="264.80" x2="389.40" y2="264.80" stroke="#2020d0" stroke-width="2" />
<line x1="408.60" y1="280.50" x2="425.50" y2="280.50" stroke="#7a1010" stroke-width="2" />
<line x1="408.60" y1="267.80" x2="425.50" y2="267.80" stroke="#e03535" stroke-width="2" />
<line x1="408.60" y1="264.80" x2="425.50" y2="264.80" stroke="#2020d0" stroke-width="2" />
<line x1="308.40" y1="227.40" x2="327.10" y2="227.40" stroke="#7a1010" stroke-width="2" />
<line x1="308.40" y1="210.30" x2="327.60" y2="210.30" stroke="#e03535" stroke-width="2" />
<line x1="308.40" y1="206.40" x2="326.60" y2="206.40" stroke="#2020d0" stroke-width="2" />
<line x1="348.60" y1="227.40" x2="368.30" y2="227.40" stroke="#7a1010" stroke-width="2" />
<line x1="348.60" y1="210.30" x2="368.80" y2="210.30" stroke="#e03535" stroke-width="2" />
<line x1="348.60" y1="206.40" x2="367.80" y2="206.40" stroke="#2020d0" stroke-width="2" />
<line x1="390.00" y1="227.40" x2="409.10" y2="227.40" stroke="#7a1010" stroke-width="2" />
<line x1="390.00" y1="210.30" x2="409.60" y2="210.30" stroke="#e03535" stroke-width="2" />
<line x1="390.00" y1="206.40" x2="408.60" y2="206.40" stroke="#2020d0" stroke-width="2" />
<rect x="271.8" y="190.7" width="153.7" height="108.19999999999999" fill="none" stroke="#000" stroke-width="1.1"/>
<line x1="425.50" y1="190.70" x2="425.50" y2="298.90" stroke="#888" stroke-width="1.1" />
<line x1="425.50" y1="289.20" x2="428.50" y2="289.20" stroke="#888" stroke-width="1" />
<text x="429.1" y="291.5" font-size="9" font-weight="bold" text-anchor="start" fill="#808080" stroke="#808080" stroke-width="0.2" font-family='"Liberation Sans", sans-serif' >0</text>
<line x1="425.50" y1="280.24" x2="427.10" y2="280.24" stroke="#888" stroke-width="1" />
<line x1="425.50" y1="271.28" x2="428.50" y2="271.28" stroke="#888" stroke-width="1" />
<text x="429.1" y="273.58" font-size="9" font-weight="bold" text-anchor="start" fill="#808080" stroke="#808080" stroke-width="0.2" font-family='"Liberation Sans", sans-serif' >20</text>
<line x1="425.50" y1="262.32" x2="427.10" y2="262.32" stroke="#888" stroke-width="1" />
<line x1="425.50" y1="253.36" x2="428.50" y2="253.36" stroke="#888" stroke-width="1" />
<text x="429.1" y="255.66" font-size="9" font-weight="bold" text-anchor="start" fill="#808080" stroke="#808080" stroke-width="0.2" font-family='"Liberation Sans", sans-serif' >40</text>
<line x1="425.50" y1="244.40" x2="427.10" y2="244.40" stroke="#888" stroke-width="1" />
<line x1="425.50" y1="235.44" x2="428.50" y2="235.44" stroke="#888" stroke-width="1" />
<text x="429.1" y="237.74" font-size="9" font-weight="bold" text-anchor="start" fill="#808080" stroke="#808080" stroke-width="0.2" font-family='"Liberation Sans", sans-serif' >60</text>
<line x1="425.50" y1="226.48" x2="427.10" y2="226.48" stroke="#888" stroke-width="1" />
<line x1="425.50" y1="217.52" x2="428.50" y2="217.52" stroke="#888" stroke-width="1" />
<text x="429.1" y="219.82" font-size="9" font-weight="bold" text-anchor="start" fill="#808080" stroke="#808080" stroke-width="0.2" font-family='"Liberation Sans", sans-serif' >80</text>
<line x1="425.50" y1="208.56" x2="427.10" y2="208.56" stroke="#888" stroke-width="1" />
<line x1="425.50" y1="199.60" x2="428.50" y2="199.60" stroke="#888" stroke-width="1" />
<text x="429.1" y="201.89999999999998" font-size="9" font-weight="bold" text-anchor="start" fill="#808080" stroke="#808080" stroke-width="0.2" font-family='"Liberation Sans", sans-serif' >100</text>
<line x1="269.60" y1="298.90" x2="271.80" y2="298.90" stroke="#000" stroke-width="0.9" />
<line x1="270.20" y1="290.79" x2="271.80" y2="290.79" stroke="#000" stroke-width="0.9" />
<line x1="270.20" y1="286.04" x2="271.80" y2="286.04" stroke="#000" stroke-width="0.9" />
<line x1="270.20" y1="282.67" x2="271.80" y2="282.67" stroke="#000" stroke-width="0.9" />
<line x1="270.20" y1="280.06" x2="271.80" y2="280.06" stroke="#000" stroke-width="0.9" />
<line x1="270.20" y1="277.93" x2="271.80" y2="277.93" stroke="#000" stroke-width="0.9" />
<line x1="270.20" y1="276.12" x2="271.80" y2="276.12" stroke="#000" stroke-width="0.9" />
<line x1="270.20" y1="274.56" x2="271.80" y2="274.56" stroke="#000" stroke-width="0.9" />
<line x1="270.20" y1="273.18" x2="271.80" y2="273.18" stroke="#000" stroke-width="0.9" />
<line x1="269.60" y1="271.95" x2="271.80" y2="271.95" stroke="#000" stroke-width="0.9" />
<line x1="270.20" y1="263.84" x2="271.80" y2="263.84" stroke="#000" stroke-width="0.9" />
<line x1="270.20" y1="259.09" x2="271.80" y2="259.09" stroke="#000" stroke-width="0.9" />
<line x1="270.20" y1="255.72" x2="271.80" y2="255.72" stroke="#000" stroke-width="0.9" />
<line x1="270.20" y1="253.11" x2="271.80" y2="253.11" stroke="#000" stroke-width="0.9" />
<line x1="270.20" y1="250.98" x2="271.80" y2="250.98" stroke="#000" stroke-width="0.9" />
<line x1="270.20" y1="249.17" x2="271.80" y2="249.17" stroke="#000" stroke-width="0.9" />
<line x1="270.20" y1="247.61" x2="271.80" y2="247.61" stroke="#000" stroke-width="0.9" />
<line x1="270.20" y1="246.23" x2="271.80" y2="246.23" stroke="#000" stroke-width="0.9" />
<line x1="269.60" y1="245.00" x2="271.80" y2="245.00" stroke="#000" stroke-width="0.9" />
<line x1="270.20" y1="236.89" x2="271.80" y2="236.89" stroke="#000" stroke-width="0.9" />
<line x1="270.20" y1="232.14" x2="271.80" y2="232.14" stroke="#000" stroke-width="0.9" />
<line x1="270.20" y1="228.77" x2="271.80" y2="228.77" stroke="#000" stroke-width="0.9" />
<line x1="270.20" y1="226.16" x2="271.80" y2="226.16" stroke="#000" stroke-width="0.9" />
<line x1="270.20" y1="224.03" x2="271.80" y2="224.03" stroke="#000" stroke-width="0.9" />
<line x1="270.20" y1="222.22" x2="271.80" y2="222.22" stroke="#000" stroke-width="0.9" />
<line x1="270.20" y1="220.66" x2="271.80" y2="220.66" stroke="#000" stroke-width="0.9" />
<line x1="270.20" y1="219.28" x2="271.80" y2="219.28" stroke="#000" stroke-width="0.9" />
<line x1="269.60" y1="218.05" x2="271.80" y2="218.05" stroke="#000" stroke-width="0.9" />
<line x1="270.20" y1="209.94" x2="271.80" y2="209.94" stroke="#000" stroke-width="0.9" />
<line x1="270.20" y1="205.19" x2="271.80" y2="205.19" stroke="#000" stroke-width="0.9" />
<line x1="270.20" y1="201.82" x2="271.80" y2="201.82" stroke="#000" stroke-width="0.9" />
<line x1="270.20" y1="199.21" x2="271.80" y2="199.21" stroke="#000" stroke-width="0.9" />
<line x1="270.20" y1="197.08" x2="271.80" y2="197.08" stroke="#000" stroke-width="0.9" />
<line x1="270.20" y1="195.27" x2="271.80" y2="195.27" stroke="#000" stroke-width="0.9" />
<line x1="270.20" y1="193.71" x2="271.80" y2="193.71" stroke="#000" stroke-width="0.9" />
<line x1="270.20" y1="192.33" x2="271.80" y2="192.33" stroke="#000" stroke-width="0.9" />
<text x="263.8" y="302.50" font-size="9.4" font-weight="bold" stroke="#000" stroke-width="0.1" text-anchor="end" font-family='"Liberation Sans", sans-serif'>10</text>
<text x="264.2" y="298.10" font-size="5.8" font-weight="normal" stroke="#000" stroke-width="0.15" text-anchor="start" font-family='"Liberation Sans", sans-serif'>-1</text>
<text x="263.8" y="275.55" font-size="9.4" font-weight="bold" stroke="#000" stroke-width="0.1" text-anchor="end" font-family='"Liberation Sans", sans-serif'>10</text>
<text x="264.2" y="271.15" font-size="5.8" font-weight="normal" stroke="#000" stroke-width="0.15" text-anchor="start" font-family='"Liberation Sans", sans-serif'>0</text>
<text x="263.8" y="248.60" font-size="9.4" font-weight="bold" stroke="#000" stroke-width="0.1" text-anchor="end" font-family='"Liberation Sans", sans-serif'>10</text>
<text x="264.2" y="244.20" font-size="5.8" font-weight="normal" stroke="#000" stroke-width="0.15" text-anchor="start" font-family='"Liberation Sans", sans-serif'>1</text>
<text x="263.8" y="221.65" font-size="9.4" font-weight="bold" stroke="#000" stroke-width="0.1" text-anchor="end" font-family='"Liberation Sans", sans-serif'>10</text>
<text x="264.2" y="217.25" font-size="5.8" font-weight="normal" stroke="#000" stroke-width="0.15" text-anchor="start" font-family='"Liberation Sans", sans-serif'>2</text>
<text x="263.8" y="194.70" font-size="9.4" font-weight="bold" stroke="#000" stroke-width="0.1" text-anchor="end" font-family='"Liberation Sans", sans-serif'>10</text>
<text x="264.2" y="190.30" font-size="5.8" font-weight="normal" stroke="#000" stroke-width="0.15" text-anchor="start" font-family='"Liberation Sans", sans-serif'>3</text>
<line x1="271.80" y1="298.90" x2="271.80" y2="301.10" stroke="#000" stroke-width="0.9" />
<line x1="271.80" y1="190.70" x2="271.80" y2="192.90" stroke="#000" stroke-width="0.9" />
<text x="271.8" y="307.7" font-size="8" font-weight="bold" text-anchor="middle" fill="#000" stroke="#000" stroke-width="0.2" font-family='"Liberation Sans", sans-serif' >0</text>
<line x1="282.05" y1="298.90" x2="282.05" y2="300.40" stroke="#000" stroke-width="0.9" />
<line x1="282.05" y1="190.70" x2="282.05" y2="192.20" stroke="#000" stroke-width="0.9" />
<line x1="292.30" y1="298.90" x2="292.30" y2="301.10" stroke="#000" stroke-width="0.9" />
<line x1="292.30" y1="190.70" x2="292.30" y2="192.90" stroke="#000" stroke-width="0.9" />
<text x="292.3" y="307.7" font-size="8" font-weight="bold" text-anchor="middle" fill="#000" stroke="#000" stroke-width="0.2" font-family='"Liberation Sans", sans-serif'  textLength="12.2" lengthAdjust="spacingAndGlyphs">100</text>
<line x1="302.55" y1="298.90" x2="302.55" y2="300.40" stroke="#000" stroke-width="0.9" />
<line x1="302.55" y1="190.70" x2="302.55" y2="192.20" stroke="#000" stroke-width="0.9" />
<line x1="312.80" y1="298.90" x2="312.80" y2="301.10" stroke="#000" stroke-width="0.9" />
<line x1="312.80" y1="190.70" x2="312.80" y2="192.90" stroke="#000" stroke-width="0.9" />
<text x="312.8" y="307.7" font-size="8" font-weight="bold" text-anchor="middle" fill="#000" stroke="#000" stroke-width="0.2" font-family='"Liberation Sans", sans-serif'  textLength="12.2" lengthAdjust="spacingAndGlyphs">200</text>
<line x1="323.05" y1="298.90" x2="323.05" y2="300.40" stroke="#000" stroke-width="0.9" />
<line x1="323.05" y1="190.70" x2="323.05" y2="192.20" stroke="#000" stroke-width="0.9" />
<line x1="333.30" y1="298.90" x2="333.30" y2="301.10" stroke="#000" stroke-width="0.9" />
<line x1="333.30" y1="190.70" x2="333.30" y2="192.90" stroke="#000" stroke-width="0.9" />
<text x="333.3" y="307.7" font-size="8" font-weight="bold" text-anchor="middle" fill="#000" stroke="#000" stroke-width="0.2" font-family='"Liberation Sans", sans-serif'  textLength="12.2" lengthAdjust="spacingAndGlyphs">300</text>
<line x1="343.55" y1="298.90" x2="343.55" y2="300.40" stroke="#000" stroke-width="0.9" />
<line x1="343.55" y1="190.70" x2="343.55" y2="192.20" stroke="#000" stroke-width="0.9" />
<line x1="353.80" y1="298.90" x2="353.80" y2="301.10" stroke="#000" stroke-width="0.9" />
<line x1="353.80" y1="190.70" x2="353.80" y2="192.90" stroke="#000" stroke-width="0.9" />
<text x="353.8" y="307.7" font-size="8" font-weight="bold" text-anchor="middle" fill="#000" stroke="#000" stroke-width="0.2" font-family='"Liberation Sans", sans-serif'  textLength="12.2" lengthAdjust="spacingAndGlyphs">400</text>
<line x1="364.05" y1="298.90" x2="364.05" y2="300.40" stroke="#000" stroke-width="0.9" />
<line x1="364.05" y1="190.70" x2="364.05" y2="192.20" stroke="#000" stroke-width="0.9" />
<line x1="374.30" y1="298.90" x2="374.30" y2="301.10" stroke="#000" stroke-width="0.9" />
<line x1="374.30" y1="190.70" x2="374.30" y2="192.90" stroke="#000" stroke-width="0.9" />
<text x="374.3" y="307.7" font-size="8" font-weight="bold" text-anchor="middle" fill="#000" stroke="#000" stroke-width="0.2" font-family='"Liberation Sans", sans-serif'  textLength="12.2" lengthAdjust="spacingAndGlyphs">500</text>
<line x1="384.55" y1="298.90" x2="384.55" y2="300.40" stroke="#000" stroke-width="0.9" />
<line x1="384.55" y1="190.70" x2="384.55" y2="192.20" stroke="#000" stroke-width="0.9" />
<line x1="394.80" y1="298.90" x2="394.80" y2="301.10" stroke="#000" stroke-width="0.9" />
<line x1="394.80" y1="190.70" x2="394.80" y2="192.90" stroke="#000" stroke-width="0.9" />
<text x="394.8" y="307.7" font-size="8" font-weight="bold" text-anchor="middle" fill="#000" stroke="#000" stroke-width="0.2" font-family='"Liberation Sans", sans-serif'  textLength="12.2" lengthAdjust="spacingAndGlyphs">600</text>
<line x1="405.05" y1="298.90" x2="405.05" y2="300.40" stroke="#000" stroke-width="0.9" />
<line x1="405.05" y1="190.70" x2="405.05" y2="192.20" stroke="#000" stroke-width="0.9" />
<line x1="415.30" y1="298.90" x2="415.30" y2="301.10" stroke="#000" stroke-width="0.9" />
<line x1="415.30" y1="190.70" x2="415.30" y2="192.90" stroke="#000" stroke-width="0.9" />
<text x="415.3" y="307.7" font-size="8" font-weight="bold" text-anchor="middle" fill="#000" stroke="#000" stroke-width="0.2" font-family='"Liberation Sans", sans-serif'  textLength="12.2" lengthAdjust="spacingAndGlyphs">700</text>
<line x1="425.55" y1="298.90" x2="425.55" y2="300.40" stroke="#000" stroke-width="0.9" />
<line x1="425.55" y1="190.70" x2="425.55" y2="192.20" stroke="#000" stroke-width="0.9" />
<text x="350.5" y="320.9" font-size="9.4" font-weight="bold" text-anchor="middle" fill="#000" stroke="#000" stroke-width="0.2" font-family='"Liberation Sans", sans-serif' >Time (s)</text>
<text x="249.5" y="252" font-size="9" font-weight="bold" text-anchor="middle" fill="#000" stroke="#000" stroke-width="0.2" font-family='"Liberation Sans", sans-serif' transform="rotate(-90 249.5 252)" >Shear viscosity (Pa.s)</text>
<text x="454.4" y="249.5" font-size="10" fill="#808080" text-anchor="middle" font-family='"Liberation Sans", sans-serif' transform="rotate(-90 454.4 249.5)">Shear rate (s<tspan font-size="6.5" dy="-4">-1</tspan><tspan dy="4">)</tspan></text>
<line x1="466.00" y1="198.60" x2="477.60" y2="198.60" stroke="#2020d0" stroke-width="1.3" />
<text x="484" y="201.79999999999998" font-size="9" font-weight="normal" text-anchor="start" fill="#000" font-family='"Liberation Sans", sans-serif' >HG</text>
<line x1="466.00" y1="214.20" x2="477.60" y2="214.20" stroke="#e05a5a" stroke-width="1.3" />
<text x="484" y="217.40" font-size="9" fill="#000" font-family='"Liberation Sans", sans-serif'>NLC1 + Q + <tspan font-family='"Liberation Serif", serif' font-size="10">ω</tspan><tspan font-size="6.5" dy="2.5">3</tspan></text>
<line x1="466.00" y1="231.40" x2="477.60" y2="231.40" stroke="#8a1a1a" stroke-width="1.3" />
<text x="484" y="234.60" font-size="9" fill="#000" font-family='"Liberation Sans", sans-serif'>NLC2 + Q + <tspan font-family='"Liberation Serif", serif' font-size="10">ω</tspan><tspan font-size="6.5" dy="2.5">3</tspan></text>
</svg></body></html>
